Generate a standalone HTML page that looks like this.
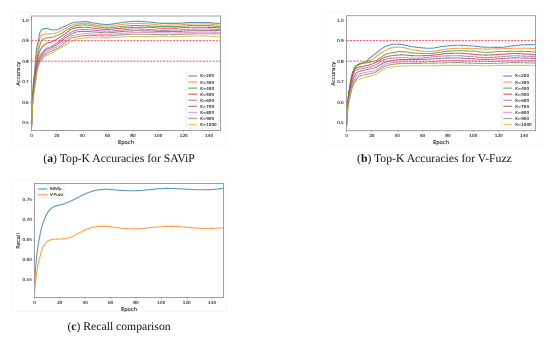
<!DOCTYPE html>
<html><head><meta charset="utf-8"><title>Figure</title>
<style>html,body{margin:0;padding:0;background:#fff;}text{text-rendering:geometricPrecision;}body{width:550px;height:341px;overflow:hidden;}svg{display:block;}</style>
</head><body>
<svg width="550" height="341" viewBox="0 0 550 341">
<rect x="12.0" y="12.5" width="214.5" height="133.0" fill="none" stroke="#f8f8f8" stroke-width="1"/>
<rect x="326.5" y="12.5" width="216.0" height="133.0" fill="none" stroke="#f8f8f8" stroke-width="1"/>
<rect x="12.0" y="180.5" width="214.5" height="131.0" fill="none" stroke="#f8f8f8" stroke-width="1"/>
<clipPath id="c3116"><rect x="31.5" y="16.0" width="189.0" height="114.5"/></clipPath>
<g clip-path="url(#c3116)" fill="none" stroke-linejoin="round" stroke-linecap="butt">
<path d="M31.50,126.70 31.55,124.21 31.60,121.78 31.65,119.42 31.70,117.14 31.75,114.95 31.80,112.86 31.85,110.89 31.90,109.03 31.95,107.30 32.00,105.71 32.05,104.28 32.10,103.00 32.15,101.86 32.20,100.79 32.25,99.80 32.30,98.87 32.35,98.00 32.40,97.18 32.45,96.40 32.50,95.64 32.55,94.91 32.60,94.18 32.65,93.47 32.70,92.74 32.75,92.00 32.80,91.26 32.85,90.52 32.90,89.80 32.95,89.08 33.00,88.37 33.05,87.67 33.10,86.98 33.15,86.31 33.20,85.65 33.25,85.00 33.30,84.37 33.35,83.75 33.40,83.15 33.50,82.01 33.60,80.95 33.70,79.98 33.80,79.09 33.90,78.26 34.00,77.46 34.10,76.67 34.20,75.88 34.30,75.07 34.40,74.22 34.50,73.30 34.60,72.31 34.70,71.22 34.80,70.01 34.85,69.31 34.90,68.48 34.95,67.57 35.00,66.59 35.05,65.59 35.10,64.58 35.15,63.60 35.20,62.67 35.25,61.84 35.30,61.11 35.35,60.48 35.40,59.87 35.50,58.74 35.60,57.71 35.70,56.76 35.80,55.87 35.90,55.01 36.00,54.20 36.10,53.44 36.20,52.72 36.30,52.03 36.40,51.36 36.50,50.69 36.60,50.01 36.70,49.30 36.80,48.58 36.90,47.84 37.00,47.11 37.10,46.40 37.20,45.72 37.30,45.09 37.45,44.25 37.60,43.58 37.80,42.86 38.00,42.25 38.20,41.64 38.40,40.93 38.55,40.27 38.70,39.38 38.80,38.68 38.90,37.94 39.00,37.17 39.10,36.42 39.20,35.69 39.30,35.03 39.45,34.22 39.65,33.46 39.85,32.82 40.10,32.14 40.35,31.59 40.65,31.05 41.00,30.54 41.40,30.09 41.90,29.68 42.40,29.31 42.95,28.98 43.50,28.73 44.10,28.59 44.70,28.51 45.30,28.44 45.90,28.41 46.50,28.41 47.10,28.49 47.70,28.65 48.30,28.84 48.90,29.02 49.50,29.17 50.10,29.34 50.69,29.51 51.29,29.68 51.89,29.83 52.49,29.94 53.09,30.00 53.74,29.99 54.34,29.96 54.94,29.90 55.54,29.82 56.14,29.73 56.74,29.63 57.34,29.51 57.94,29.35 58.54,29.10 59.09,28.83 59.64,28.52 60.19,28.21 60.74,27.92 61.29,27.67 61.84,27.41 62.39,27.16 62.94,26.91 63.49,26.66 64.04,26.41 64.64,26.15 65.24,25.90 65.84,25.66 66.44,25.42 67.04,25.19 67.64,24.95 68.24,24.71 68.84,24.45 69.39,24.17 69.94,23.88 70.49,23.59 71.04,23.33 71.64,23.10 72.24,22.95 72.84,22.82 73.44,22.70 74.04,22.59 74.64,22.49 75.24,22.41 75.84,22.32 76.44,22.25 77.04,22.18 77.64,22.12 78.24,22.07 78.84,22.01 79.44,21.96 80.04,21.91 80.64,21.87 81.24,21.82 81.84,21.77 82.44,21.73 83.04,21.70 83.64,21.66 84.24,21.64 84.84,21.62 85.49,21.60 86.14,21.60 86.74,21.63 87.34,21.69 87.94,21.79 88.53,21.90 89.13,22.04 89.73,22.18 90.33,22.33 90.93,22.48 91.53,22.62 92.13,22.75 92.73,22.86 93.33,22.95 93.93,23.04 94.53,23.13 95.13,23.22 95.73,23.32 96.33,23.41 96.93,23.50 97.53,23.60 98.13,23.69 98.73,23.78 99.33,23.86 99.93,23.95 100.53,24.02 101.13,24.10 101.73,24.17 102.33,24.24 102.93,24.30 103.53,24.35 104.13,24.39 104.73,24.43 105.33,24.46 105.93,24.48 106.58,24.50 107.23,24.50 107.88,24.49 108.48,24.46 109.08,24.42 109.68,24.37 110.28,24.32 110.88,24.25 111.48,24.17 112.08,24.09 112.68,24.01 113.28,23.91 113.88,23.82 114.48,23.72 115.08,23.62 115.68,23.51 116.28,23.41 116.88,23.31 117.48,23.21 118.08,23.11 118.68,23.01 119.28,22.92 119.88,22.84 120.48,22.76 121.08,22.69 121.68,22.62 122.28,22.55 122.88,22.47 123.48,22.40 124.08,22.32 124.68,22.24 125.28,22.16 125.88,22.08 126.47,22.00 127.07,21.92 127.67,21.84 128.27,21.77 128.87,21.70 129.47,21.63 130.07,21.57 130.67,21.51 131.27,21.46 131.87,21.42 132.47,21.38 133.07,21.35 133.67,21.32 134.27,21.31 134.92,21.30 135.57,21.30 136.22,21.31 136.87,21.32 137.47,21.33 138.07,21.35 138.67,21.37 139.27,21.40 139.87,21.42 140.47,21.45 141.07,21.48 141.67,21.51 142.27,21.55 142.87,21.59 143.47,21.62 144.07,21.66 144.67,21.70 145.27,21.74 145.87,21.78 146.47,21.83 147.07,21.87 147.67,21.91 148.27,21.95 148.87,21.99 149.47,22.03 150.07,22.08 150.67,22.14 151.27,22.20 151.87,22.27 152.47,22.35 153.07,22.42 153.67,22.50 154.27,22.58 154.87,22.66 155.47,22.75 156.07,22.83 156.67,22.90 157.27,22.98 157.87,23.05 158.47,23.12 159.07,23.18 159.67,23.24 160.27,23.29 160.87,23.33 161.47,23.36 162.07,23.39 162.72,23.40 163.37,23.40 164.01,23.40 164.66,23.40 165.31,23.40 165.96,23.40 166.61,23.40 167.26,23.40 167.91,23.40 168.56,23.40 169.21,23.40 169.86,23.40 170.51,23.40 171.16,23.40 171.81,23.40 172.46,23.40 173.11,23.40 173.76,23.40 174.41,23.40 175.06,23.40 175.71,23.40 176.36,23.40 177.01,23.40 177.66,23.39 178.26,23.38 178.86,23.36 179.46,23.33 180.06,23.29 180.66,23.25 181.26,23.20 181.86,23.15 182.46,23.10 183.06,23.04 183.66,22.98 184.26,22.92 184.86,22.87 185.46,22.81 186.06,22.76 186.66,22.71 187.26,22.66 187.86,22.62 188.46,22.58 189.06,22.55 189.66,22.52 190.26,22.51 190.91,22.50 191.56,22.50 192.21,22.50 192.86,22.50 193.51,22.50 194.16,22.50 194.81,22.50 195.46,22.50 196.11,22.50 196.76,22.50 197.41,22.50 198.06,22.50 198.71,22.50 199.36,22.50 200.01,22.50 200.66,22.50 201.31,22.50 201.95,22.50 202.60,22.50 203.25,22.50 203.90,22.50 204.55,22.50 205.20,22.50 205.85,22.51 206.45,22.52 207.05,22.55 207.65,22.58 208.25,22.61 208.85,22.65 209.45,22.70 210.05,22.74 210.65,22.80 211.25,22.85 211.85,22.90 212.45,22.96 213.05,23.02 213.65,23.07 214.25,23.13 214.85,23.18 215.45,23.23 216.05,23.28 216.65,23.32 217.25,23.36 217.85,23.39 218.45,23.42 219.05,23.45 219.65,23.47 220.25,23.49 220.50,23.50" stroke="#1f77b4" stroke-width="1.1" stroke-opacity="0.75"/>
<path d="M31.50,126.70 31.55,124.53 31.60,122.40 31.65,120.32 31.70,118.30 31.75,116.34 31.80,114.46 31.85,112.66 31.90,110.94 31.95,109.31 32.00,107.77 32.05,106.34 32.10,105.03 32.15,103.82 32.20,102.74 32.25,101.75 32.30,100.82 32.35,99.94 32.40,99.12 32.45,98.34 32.50,97.60 32.55,96.89 32.60,96.21 32.65,95.54 32.70,94.90 32.75,94.26 32.80,93.62 32.85,92.98 32.90,92.33 32.95,91.67 33.00,91.01 33.05,90.36 33.10,89.72 33.15,89.08 33.20,88.45 33.25,87.83 33.30,87.21 33.35,86.61 33.45,85.43 33.55,84.28 33.65,83.19 33.75,82.13 33.85,81.13 33.95,80.18 34.05,79.28 34.15,78.41 34.25,77.56 34.35,76.74 34.45,75.92 34.55,75.11 34.65,74.30 34.75,73.47 34.85,72.63 34.95,71.75 35.05,70.84 35.15,69.89 35.25,68.87 35.35,67.80 35.45,66.69 35.55,65.56 35.65,64.43 35.75,63.32 35.85,62.25 35.95,61.23 36.05,60.26 36.15,59.28 36.25,58.32 36.35,57.36 36.45,56.43 36.55,55.52 36.65,54.65 36.75,53.83 36.85,53.05 36.95,52.34 37.05,51.69 37.15,51.08 37.30,50.24 37.45,49.46 37.60,48.72 37.75,48.02 37.90,47.34 38.05,46.66 38.20,45.97 38.35,45.26 38.50,44.50 38.65,43.72 38.80,42.93 38.95,42.15 39.10,41.41 39.25,40.72 39.40,40.09 39.55,39.46 39.70,38.83 39.85,38.23 40.05,37.49 40.25,36.86 40.50,36.30 40.85,35.80 41.30,35.35 41.80,35.01 42.35,34.72 42.95,34.51 43.55,34.39 44.15,34.29 44.75,34.21 45.35,34.14 45.95,34.08 46.55,34.03 47.15,33.99 47.75,33.96 48.35,33.93 48.95,33.90 49.55,33.88 50.15,33.85 50.74,33.82 51.34,33.77 51.94,33.71 52.54,33.64 53.14,33.55 53.74,33.45 54.34,33.34 54.94,33.22 55.54,33.08 56.14,32.94 56.74,32.77 57.34,32.54 57.89,32.30 58.44,32.02 58.99,31.74 59.54,31.44 60.09,31.15 60.64,30.88 61.19,30.60 61.74,30.32 62.29,30.03 62.84,29.74 63.39,29.45 63.94,29.16 64.49,28.87 65.04,28.58 65.59,28.29 66.14,28.01 66.69,27.72 67.24,27.44 67.79,27.16 68.34,26.88 68.89,26.60 69.44,26.30 69.99,26.00 70.54,25.71 71.09,25.45 71.69,25.20 72.29,25.02 72.89,24.85 73.49,24.68 74.09,24.53 74.69,24.39 75.29,24.26 75.89,24.14 76.49,24.03 77.09,23.93 77.69,23.85 78.29,23.77 78.89,23.71 79.49,23.66 80.09,23.61 80.69,23.56 81.29,23.51 81.89,23.46 82.49,23.42 83.09,23.39 83.69,23.36 84.29,23.33 84.89,23.31 85.54,23.30 86.19,23.30 86.79,23.33 87.39,23.39 87.99,23.48 88.58,23.59 89.18,23.71 89.78,23.84 90.38,23.98 90.98,24.12 91.58,24.25 92.18,24.37 92.78,24.47 93.38,24.55 93.98,24.64 94.58,24.73 95.18,24.82 95.78,24.92 96.38,25.01 96.98,25.10 97.58,25.19 98.18,25.28 98.78,25.37 99.38,25.46 99.98,25.54 100.58,25.62 101.18,25.70 101.78,25.77 102.38,25.84 102.98,25.90 103.58,25.95 104.18,26.00 104.78,26.03 105.38,26.06 105.98,26.09 106.63,26.10 107.28,26.10 107.93,26.09 108.53,26.06 109.13,26.03 109.73,25.99 110.33,25.94 110.93,25.89 111.53,25.83 112.13,25.76 112.73,25.68 113.33,25.61 113.93,25.53 114.53,25.44 115.13,25.36 115.73,25.27 116.33,25.19 116.93,25.10 117.53,25.02 118.13,24.94 118.73,24.86 119.33,24.78 119.93,24.71 120.53,24.65 121.13,24.59 121.73,24.53 122.33,24.47 122.93,24.40 123.53,24.34 124.13,24.27 124.73,24.20 125.33,24.13 125.93,24.06 126.52,23.99 127.12,23.93 127.72,23.86 128.32,23.80 128.92,23.74 129.52,23.68 130.12,23.63 130.72,23.58 131.32,23.54 131.92,23.50 132.52,23.47 133.12,23.44 133.72,23.42 134.37,23.40 135.02,23.40 135.67,23.40 136.32,23.41 136.97,23.41 137.62,23.43 138.27,23.44 138.87,23.45 139.47,23.47 140.07,23.49 140.67,23.51 141.27,23.53 141.87,23.55 142.47,23.58 143.07,23.61 143.67,23.63 144.27,23.66 144.87,23.69 145.47,23.72 146.07,23.75 146.67,23.78 147.27,23.81 147.87,23.84 148.47,23.87 149.07,23.90 149.67,23.94 150.27,23.98 150.87,24.04 151.47,24.09 152.07,24.16 152.67,24.22 153.27,24.30 153.87,24.37 154.47,24.44 155.07,24.52 155.67,24.60 156.27,24.67 156.87,24.75 157.47,24.82 158.07,24.89 158.67,24.95 159.27,25.01 159.87,25.06 160.47,25.11 161.07,25.14 161.67,25.17 162.27,25.19 162.92,25.20 163.57,25.20 164.21,25.20 164.86,25.20 165.51,25.19 166.16,25.19 166.81,25.18 167.46,25.17 168.11,25.17 168.76,25.16 169.41,25.15 170.06,25.14 170.71,25.13 171.36,25.12 172.01,25.11 172.66,25.09 173.31,25.08 173.96,25.07 174.61,25.05 175.26,25.04 175.91,25.03 176.56,25.01 177.16,25.00 177.76,24.98 178.36,24.95 178.96,24.92 179.56,24.89 180.16,24.85 180.76,24.81 181.36,24.77 181.96,24.72 182.56,24.67 183.16,24.62 183.76,24.57 184.36,24.52 184.96,24.47 185.56,24.42 186.16,24.37 186.76,24.32 187.36,24.28 187.96,24.24 188.56,24.20 189.16,24.17 189.76,24.14 190.36,24.12 190.96,24.10 191.56,24.09 192.21,24.07 192.86,24.06 193.51,24.04 194.16,24.03 194.81,24.02 195.46,24.00 196.11,23.99 196.76,23.98 197.41,23.97 198.06,23.96 198.71,23.95 199.36,23.94 200.01,23.93 200.66,23.92 201.31,23.92 201.95,23.91 202.60,23.91 203.25,23.90 203.90,23.90 204.55,23.90 205.20,23.90 205.85,23.91 206.45,23.93 207.05,23.96 207.65,24.00 208.25,24.04 208.85,24.09 209.45,24.15 210.05,24.21 210.65,24.27 211.25,24.34 211.85,24.41 212.45,24.48 213.05,24.55 213.65,24.62 214.25,24.68 214.85,24.75 215.45,24.81 216.05,24.86 216.65,24.91 217.25,24.96 217.85,24.99 218.45,25.02 219.05,25.05 219.65,25.07 220.25,25.09 220.50,25.10" stroke="#ff7f0e" stroke-width="1.1" stroke-opacity="0.75"/>
<path d="M31.50,126.70 31.55,124.77 31.60,122.88 31.65,121.02 31.70,119.21 31.75,117.45 31.80,115.74 31.85,114.09 31.90,112.50 31.95,110.97 32.00,109.52 32.05,108.14 32.10,106.85 32.15,105.64 32.20,104.51 32.25,103.48 32.30,102.54 32.35,101.67 32.40,100.84 32.45,100.05 32.50,99.31 32.55,98.60 32.60,97.93 32.65,97.28 32.70,96.66 32.75,96.06 32.85,94.89 32.95,93.75 33.05,92.60 33.15,91.41 33.25,90.23 33.35,89.08 33.45,87.96 33.55,86.85 33.65,85.78 33.75,84.73 33.85,83.71 33.95,82.73 34.05,81.77 34.15,80.84 34.25,79.94 34.35,79.07 34.45,78.21 34.55,77.37 34.65,76.55 34.75,75.74 34.85,74.94 34.95,74.15 35.05,73.36 35.15,72.57 35.25,71.79 35.35,71.00 35.45,70.21 35.55,69.41 35.65,68.61 35.75,67.81 35.85,67.01 35.95,66.21 36.05,65.42 36.15,64.64 36.25,63.87 36.35,63.12 36.45,62.37 36.55,61.64 36.65,60.93 36.75,60.22 36.85,59.51 36.95,58.80 37.05,58.10 37.15,57.41 37.25,56.74 37.35,56.08 37.45,55.45 37.55,54.85 37.70,54.02 37.85,53.27 38.00,52.57 38.15,51.91 38.30,51.29 38.45,50.69 38.65,49.93 38.85,49.21 39.05,48.52 39.25,47.85 39.45,47.18 39.65,46.51 39.85,45.84 40.05,45.12 40.25,44.38 40.45,43.64 40.65,42.92 40.85,42.25 41.05,41.65 41.30,41.04 41.65,40.51 42.05,40.05 42.50,39.63 43.00,39.25 43.55,38.92 44.10,38.66 44.70,38.41 45.30,38.20 45.90,38.02 46.50,37.88 47.10,37.79 47.70,37.73 48.30,37.69 48.90,37.65 49.50,37.62 50.10,37.58 50.69,37.53 51.29,37.46 51.89,37.36 52.49,37.23 53.09,37.08 53.69,36.90 54.29,36.71 54.89,36.50 55.49,36.29 56.09,36.07 56.69,35.85 57.29,35.60 57.84,35.34 58.39,35.07 58.94,34.79 59.49,34.50 60.04,34.20 60.59,33.89 61.14,33.57 61.69,33.24 62.24,32.89 62.79,32.53 63.34,32.17 63.89,31.81 64.44,31.45 64.99,31.11 65.54,30.77 66.09,30.43 66.64,30.10 67.19,29.77 67.74,29.44 68.29,29.12 68.84,28.80 69.39,28.48 69.94,28.15 70.49,27.83 71.04,27.53 71.59,27.27 72.19,27.03 72.79,26.81 73.39,26.59 73.99,26.37 74.59,26.17 75.19,25.98 75.79,25.80 76.39,25.64 76.99,25.50 77.59,25.38 78.19,25.29 78.79,25.22 79.39,25.17 79.99,25.13 80.59,25.09 81.19,25.05 81.79,25.02 82.39,24.99 82.99,24.96 83.59,24.94 84.19,24.92 84.84,24.91 85.49,24.90 86.14,24.90 86.74,24.92 87.34,24.97 87.94,25.03 88.53,25.11 89.13,25.21 89.73,25.32 90.33,25.43 90.93,25.54 91.53,25.66 92.13,25.76 92.73,25.86 93.33,25.95 93.93,26.04 94.53,26.14 95.13,26.24 95.73,26.35 96.33,26.46 96.93,26.58 97.53,26.69 98.13,26.80 98.73,26.92 99.33,27.03 99.93,27.14 100.53,27.24 101.13,27.34 101.73,27.44 102.33,27.53 102.93,27.61 103.53,27.68 104.13,27.75 104.73,27.80 105.33,27.85 105.93,27.88 106.53,27.90 107.18,27.90 107.83,27.89 108.43,27.87 109.03,27.85 109.63,27.81 110.23,27.77 110.83,27.73 111.43,27.67 112.03,27.62 112.63,27.55 113.23,27.49 113.83,27.42 114.43,27.35 115.03,27.28 115.63,27.20 116.23,27.13 116.83,27.05 117.43,26.98 118.03,26.91 118.63,26.84 119.23,26.77 119.83,26.71 120.43,26.65 121.03,26.60 121.63,26.54 122.23,26.49 122.83,26.43 123.43,26.37 124.03,26.31 124.63,26.25 125.23,26.18 125.83,26.12 126.42,26.06 127.02,26.00 127.62,25.94 128.22,25.88 128.82,25.82 129.42,25.77 130.02,25.72 130.62,25.68 131.22,25.63 131.82,25.60 132.42,25.57 133.02,25.54 133.62,25.52 134.27,25.51 134.92,25.50 135.57,25.50 136.22,25.51 136.87,25.51 137.52,25.52 138.17,25.53 138.82,25.55 139.42,25.56 140.02,25.58 140.62,25.59 141.22,25.61 141.82,25.63 142.42,25.65 143.02,25.67 143.62,25.69 144.22,25.72 144.82,25.74 145.42,25.76 146.02,25.79 146.62,25.81 147.22,25.83 147.82,25.86 148.42,25.88 149.02,25.90 149.62,25.92 150.22,25.95 150.82,25.98 151.42,26.02 152.02,26.05 152.62,26.09 153.22,26.13 153.82,26.17 154.42,26.21 155.02,26.25 155.62,26.29 156.22,26.33 156.82,26.37 157.42,26.40 158.02,26.44 158.62,26.47 159.22,26.50 159.82,26.53 160.42,26.55 161.02,26.57 161.62,26.59 162.27,26.60 162.92,26.60 163.57,26.60 164.21,26.60 164.86,26.60 165.51,26.60 166.16,26.60 166.81,26.60 167.46,26.60 168.11,26.60 168.76,26.60 169.41,26.60 170.06,26.60 170.71,26.60 171.36,26.60 172.01,26.60 172.66,26.60 173.31,26.60 173.96,26.60 174.61,26.60 175.26,26.60 175.91,26.60 176.56,26.60 177.21,26.60 177.86,26.59 178.46,26.57 179.06,26.54 179.66,26.50 180.26,26.45 180.86,26.40 181.46,26.34 182.06,26.27 182.66,26.21 183.26,26.14 183.86,26.07 184.46,26.00 185.06,25.93 185.66,25.86 186.26,25.79 186.86,25.73 187.46,25.68 188.06,25.63 188.66,25.58 189.26,25.55 189.86,25.52 190.46,25.50 191.11,25.50 191.76,25.50 192.41,25.50 193.06,25.50 193.71,25.50 194.36,25.50 195.01,25.50 195.66,25.50 196.31,25.50 196.96,25.50 197.61,25.50 198.26,25.50 198.91,25.50 199.56,25.50 200.21,25.50 200.86,25.50 201.51,25.50 202.15,25.50 202.80,25.50 203.45,25.50 204.10,25.50 204.75,25.50 205.40,25.50 206.05,25.51 206.65,25.53 207.25,25.56 207.85,25.59 208.45,25.62 209.05,25.67 209.65,25.71 210.25,25.76 210.85,25.81 211.45,25.87 212.05,25.92 212.65,25.98 213.25,26.04 213.85,26.09 214.45,26.15 215.05,26.20 215.65,26.25 216.25,26.29 216.85,26.33 217.45,26.37 218.05,26.40 218.65,26.43 219.25,26.45 219.85,26.48 220.45,26.50 220.50,26.50" stroke="#2ca02c" stroke-width="1.1" stroke-opacity="0.75"/>
<path d="M31.50,126.70 31.55,124.96 31.60,123.26 31.65,121.58 31.70,119.94 31.75,118.34 31.80,116.78 31.85,115.26 31.90,113.79 31.95,112.37 32.00,111.00 32.05,109.70 32.10,108.45 32.15,107.26 32.20,106.14 32.25,105.09 32.30,104.12 32.35,103.22 32.40,102.39 32.45,101.60 32.50,100.85 32.55,100.14 32.60,99.47 32.65,98.82 32.70,98.20 32.80,97.04 32.90,95.94 33.00,94.89 33.10,93.85 33.20,92.81 33.30,91.73 33.40,90.66 33.50,89.61 33.60,88.57 33.70,87.56 33.80,86.56 33.90,85.59 34.00,84.63 34.10,83.70 34.20,82.79 34.30,81.90 34.40,81.02 34.50,80.16 34.60,79.31 34.70,78.47 34.80,77.64 34.90,76.82 35.00,76.02 35.10,75.23 35.20,74.46 35.30,73.70 35.40,72.95 35.50,72.21 35.60,71.49 35.70,70.78 35.80,70.09 35.90,69.41 36.00,68.75 36.10,68.09 36.20,67.44 36.30,66.81 36.40,66.18 36.50,65.57 36.60,64.96 36.70,64.37 36.85,63.50 37.00,62.66 37.15,61.84 37.30,61.04 37.45,60.26 37.60,59.49 37.75,58.73 37.90,57.99 38.05,57.28 38.20,56.60 38.35,55.96 38.50,55.37 38.70,54.66 38.90,53.99 39.10,53.36 39.30,52.76 39.50,52.19 39.75,51.52 40.00,50.90 40.25,50.33 40.55,49.69 40.85,49.08 41.15,48.49 41.45,47.93 41.80,47.33 42.15,46.80 42.55,46.27 43.00,45.81 43.50,45.38 44.00,45.00 44.55,44.65 45.10,44.33 45.65,44.03 46.20,43.75 46.75,43.49 47.35,43.24 47.95,43.02 48.55,42.84 49.15,42.69 49.75,42.55 50.35,42.40 50.94,42.22 51.54,41.99 52.09,41.75 52.64,41.48 53.19,41.20 53.74,40.90 54.29,40.61 54.84,40.32 55.39,40.02 55.94,39.72 56.49,39.41 57.04,39.09 57.59,38.75 58.14,38.41 58.64,38.07 59.14,37.72 59.64,37.35 60.14,36.98 60.64,36.61 61.14,36.25 61.64,35.90 62.14,35.57 62.69,35.21 63.24,34.85 63.79,34.49 64.34,34.14 64.89,33.77 65.39,33.44 65.89,33.09 66.39,32.75 66.89,32.40 67.39,32.06 67.89,31.71 68.39,31.37 68.89,31.03 69.39,30.66 69.89,30.28 70.39,29.91 70.89,29.57 71.44,29.25 71.99,29.00 72.59,28.79 73.19,28.59 73.79,28.39 74.39,28.21 74.99,28.04 75.59,27.89 76.19,27.75 76.79,27.63 77.39,27.54 77.99,27.47 78.59,27.42 79.19,27.40 79.79,27.38 80.39,27.37 81.04,27.35 81.69,27.34 82.34,27.33 82.99,27.32 83.64,27.31 84.29,27.31 84.94,27.30 85.59,27.30 86.24,27.30 86.84,27.32 87.44,27.36 88.04,27.42 88.63,27.49 89.23,27.57 89.83,27.66 90.43,27.75 91.03,27.84 91.63,27.93 92.23,28.01 92.83,28.08 93.43,28.15 94.03,28.21 94.63,28.28 95.23,28.35 95.83,28.42 96.43,28.50 97.03,28.57 97.63,28.65 98.23,28.72 98.83,28.79 99.43,28.87 100.03,28.94 100.63,29.00 101.23,29.06 101.83,29.12 102.43,29.18 103.03,29.23 103.63,29.27 104.23,29.31 104.83,29.35 105.43,29.37 106.03,29.39 106.68,29.40 107.33,29.40 107.98,29.39 108.58,29.37 109.18,29.35 109.78,29.32 110.38,29.28 110.98,29.24 111.58,29.20 112.18,29.15 112.78,29.10 113.38,29.04 113.98,28.98 114.58,28.92 115.18,28.86 115.78,28.80 116.38,28.74 116.98,28.67 117.58,28.61 118.18,28.55 118.78,28.49 119.38,28.44 119.98,28.38 120.58,28.33 121.18,28.29 121.78,28.24 122.38,28.19 122.98,28.14 123.58,28.08 124.18,28.03 124.78,27.97 125.38,27.91 125.98,27.86 126.57,27.80 127.17,27.74 127.77,27.69 128.37,27.64 128.97,27.59 129.57,27.54 130.17,27.49 130.77,27.45 131.37,27.41 131.97,27.38 132.57,27.35 133.17,27.33 133.77,27.31 134.42,27.30 135.07,27.30 135.72,27.30 136.37,27.30 137.02,27.30 137.67,27.30 138.32,27.30 138.97,27.30 139.62,27.30 140.27,27.30 140.92,27.30 141.57,27.30 142.22,27.30 142.87,27.30 143.52,27.30 144.17,27.30 144.82,27.30 145.47,27.30 146.12,27.30 146.77,27.30 147.42,27.30 148.07,27.30 148.72,27.30 149.37,27.30 150.02,27.32 150.62,27.34 151.22,27.37 151.82,27.41 152.42,27.45 153.02,27.50 153.62,27.55 154.22,27.61 154.82,27.67 155.42,27.74 156.02,27.80 156.62,27.87 157.22,27.93 157.82,27.99 158.42,28.05 159.02,28.10 159.62,28.15 160.22,28.20 160.82,28.23 161.42,28.26 162.02,28.29 162.67,28.30 163.32,28.30 163.96,28.30 164.61,28.30 165.26,28.29 165.91,28.29 166.56,28.28 167.21,28.28 167.86,28.27 168.51,28.26 169.16,28.25 169.81,28.24 170.46,28.23 171.11,28.22 171.76,28.21 172.41,28.20 173.06,28.19 173.71,28.17 174.36,28.16 175.01,28.14 175.66,28.13 176.31,28.12 176.96,28.10 177.56,28.08 178.16,28.06 178.76,28.03 179.36,28.00 179.96,27.97 180.56,27.93 181.16,27.88 181.76,27.84 182.36,27.79 182.96,27.74 183.56,27.70 184.16,27.65 184.76,27.60 185.36,27.55 185.96,27.51 186.56,27.47 187.16,27.43 187.76,27.40 188.36,27.37 188.96,27.34 189.56,27.32 190.21,27.31 190.86,27.30 191.51,27.30 192.16,27.30 192.81,27.30 193.46,27.30 194.11,27.30 194.76,27.30 195.41,27.30 196.06,27.30 196.71,27.30 197.36,27.30 198.01,27.30 198.66,27.30 199.31,27.30 199.96,27.30 200.61,27.30 201.26,27.30 201.90,27.30 202.55,27.30 203.20,27.30 203.85,27.30 204.50,27.30 205.15,27.30 205.80,27.30 206.45,27.31 207.10,27.32 207.70,27.34 208.30,27.36 208.90,27.38 209.50,27.40 210.10,27.42 210.70,27.45 211.30,27.48 211.90,27.51 212.50,27.54 213.10,27.57 213.70,27.60 214.30,27.63 214.90,27.66 215.50,27.69 216.10,27.72 216.70,27.74 217.30,27.77 217.90,27.80 218.50,27.82 219.10,27.84 219.70,27.87 220.30,27.89 220.50,27.90" stroke="#d62728" stroke-width="1.1" stroke-opacity="0.75"/>
<path d="M31.50,126.70 31.55,125.12 31.60,123.57 31.65,122.04 31.70,120.55 31.75,119.08 31.80,117.64 31.85,116.24 31.90,114.87 31.95,113.55 32.00,112.27 32.05,111.03 32.10,109.84 32.15,108.70 32.20,107.60 32.25,106.57 32.30,105.59 32.35,104.66 32.40,103.80 32.45,103.00 32.50,102.26 32.55,101.54 32.60,100.87 32.65,100.22 32.70,99.60 32.80,98.43 32.90,97.35 33.00,96.33 33.10,95.36 33.20,94.41 33.30,93.46 33.40,92.50 33.50,91.51 33.60,90.53 33.70,89.57 33.80,88.62 33.90,87.69 34.00,86.77 34.10,85.87 34.20,84.99 34.30,84.12 34.40,83.26 34.50,82.42 34.60,81.59 34.70,80.77 34.80,79.95 34.90,79.13 35.00,78.32 35.10,77.51 35.20,76.72 35.30,75.94 35.40,75.17 35.50,74.42 35.60,73.68 35.70,72.96 35.80,72.26 35.90,71.59 36.00,70.94 36.10,70.31 36.20,69.71 36.35,68.83 36.50,67.96 36.65,67.12 36.80,66.30 36.95,65.51 37.10,64.74 37.25,64.01 37.40,63.32 37.55,62.66 37.70,62.04 37.90,61.28 38.10,60.60 38.30,59.97 38.50,59.39 38.75,58.71 39.00,58.08 39.25,57.48 39.50,56.90 39.75,56.34 40.00,55.79 40.30,55.17 40.60,54.59 40.90,54.06 41.25,53.53 41.60,53.04 42.00,52.53 42.40,52.05 42.80,51.60 43.25,51.10 43.70,50.61 44.15,50.13 44.60,49.68 45.05,49.28 45.55,48.90 46.10,48.57 46.65,48.28 47.20,48.03 47.80,47.78 48.40,47.56 49.00,47.34 49.60,47.11 50.20,46.87 50.74,46.63 51.29,46.35 51.84,46.04 52.39,45.71 52.94,45.37 53.49,45.03 54.04,44.68 54.59,44.34 55.14,44.02 55.69,43.71 56.24,43.42 56.79,43.13 57.34,42.82 57.89,42.47 58.39,42.12 58.89,41.73 59.39,41.31 59.89,40.87 60.34,40.46 60.79,40.05 61.24,39.63 61.69,39.22 62.14,38.79 62.59,38.34 63.04,37.89 63.49,37.44 63.94,37.00 64.39,36.59 64.89,36.18 65.39,35.82 65.94,35.47 66.49,35.15 67.04,34.84 67.59,34.53 68.14,34.22 68.69,33.88 69.24,33.52 69.74,33.17 70.24,32.82 70.74,32.49 71.29,32.16 71.84,31.87 72.44,31.61 73.04,31.36 73.64,31.11 74.24,30.87 74.84,30.64 75.44,30.42 76.04,30.23 76.64,30.06 77.24,29.92 77.84,29.81 78.44,29.73 79.04,29.70 79.64,29.68 80.24,29.67 80.89,29.65 81.54,29.64 82.19,29.63 82.84,29.62 83.49,29.61 84.14,29.61 84.79,29.60 85.44,29.60 86.09,29.60 86.74,29.61 87.34,29.63 87.94,29.66 88.53,29.71 89.13,29.75 89.73,29.81 90.33,29.86 90.93,29.92 91.53,29.98 92.13,30.03 92.73,30.08 93.33,30.13 93.93,30.17 94.53,30.23 95.13,30.28 95.73,30.34 96.33,30.40 96.93,30.46 97.53,30.53 98.13,30.59 98.73,30.65 99.33,30.71 99.93,30.77 100.53,30.83 101.13,30.89 101.73,30.94 102.33,30.99 102.93,31.04 103.53,31.08 104.13,31.12 104.73,31.15 105.33,31.17 105.93,31.19 106.58,31.20 107.23,31.20 107.88,31.19 108.48,31.18 109.08,31.16 109.68,31.13 110.28,31.09 110.88,31.05 111.48,31.01 112.08,30.96 112.68,30.91 113.28,30.86 113.88,30.80 114.48,30.74 115.08,30.68 115.68,30.62 116.28,30.55 116.88,30.49 117.48,30.43 118.08,30.37 118.68,30.31 119.28,30.25 119.88,30.19 120.48,30.14 121.08,30.09 121.68,30.04 122.28,29.99 122.88,29.94 123.48,29.88 124.08,29.82 124.68,29.76 125.28,29.69 125.88,29.63 126.47,29.57 127.07,29.51 127.67,29.44 128.27,29.39 128.87,29.33 129.47,29.28 130.07,29.22 130.67,29.18 131.27,29.14 131.87,29.10 132.47,29.07 133.07,29.04 133.67,29.02 134.32,29.01 134.97,29.00 135.62,29.00 136.27,29.01 136.92,29.01 137.57,29.02 138.22,29.03 138.87,29.04 139.52,29.06 140.12,29.07 140.72,29.09 141.32,29.11 141.92,29.13 142.52,29.15 143.12,29.17 143.72,29.19 144.32,29.21 144.92,29.23 145.52,29.26 146.12,29.28 146.72,29.31 147.32,29.33 147.92,29.36 148.52,29.38 149.12,29.40 149.72,29.43 150.32,29.47 150.92,29.51 151.52,29.55 152.12,29.60 152.72,29.66 153.32,29.71 153.92,29.77 154.52,29.83 155.12,29.89 155.72,29.94 156.32,30.00 156.92,30.06 157.52,30.11 158.12,30.17 158.72,30.21 159.32,30.26 159.92,30.30 160.52,30.33 161.12,30.36 161.72,30.38 162.32,30.39 162.97,30.40 163.62,30.40 164.26,30.40 164.91,30.39 165.56,30.39 166.21,30.38 166.86,30.37 167.51,30.36 168.16,30.35 168.81,30.33 169.46,30.32 170.06,30.30 170.66,30.29 171.26,30.27 171.86,30.26 172.46,30.24 173.06,30.22 173.66,30.21 174.26,30.19 174.86,30.17 175.46,30.15 176.06,30.13 176.66,30.11 177.26,30.09 177.86,30.07 178.46,30.04 179.06,30.01 179.66,29.97 180.26,29.93 180.86,29.89 181.46,29.84 182.06,29.79 182.66,29.74 183.26,29.70 183.86,29.65 184.46,29.60 185.06,29.55 185.66,29.50 186.26,29.45 186.86,29.41 187.46,29.37 188.06,29.33 188.66,29.29 189.26,29.26 189.86,29.24 190.46,29.22 191.06,29.20 191.66,29.18 192.31,29.17 192.96,29.16 193.61,29.14 194.26,29.13 194.91,29.11 195.56,29.10 196.21,29.09 196.86,29.08 197.51,29.07 198.16,29.06 198.81,29.05 199.46,29.04 200.11,29.03 200.76,29.02 201.41,29.02 202.05,29.01 202.70,29.01 203.35,29.00 204.00,29.00 204.65,29.00 205.30,29.00 205.95,29.00 206.60,29.01 207.25,29.02 207.90,29.03 208.50,29.05 209.10,29.06 209.70,29.08 210.30,29.10 210.90,29.12 211.50,29.14 212.10,29.16 212.70,29.19 213.30,29.21 213.90,29.24 214.50,29.26 215.10,29.29 215.70,29.31 216.30,29.34 216.90,29.36 217.50,29.38 218.10,29.40 218.70,29.43 219.30,29.45 219.90,29.48 220.50,29.50" stroke="#9467bd" stroke-width="1.1" stroke-opacity="0.75"/>
<path d="M31.50,126.70 31.55,125.26 31.60,123.83 31.65,122.43 31.70,121.05 31.75,119.69 31.80,118.37 31.85,117.07 31.90,115.79 31.95,114.56 32.00,113.35 32.05,112.18 32.10,111.05 32.15,109.96 32.20,108.90 32.25,107.89 32.30,106.93 32.35,106.01 32.40,105.14 32.45,104.32 32.50,103.55 32.55,102.83 32.60,102.15 32.65,101.50 32.70,100.88 32.80,99.71 32.90,98.63 33.00,97.62 33.10,96.67 33.20,95.76 33.30,94.88 33.40,94.01 33.50,93.13 33.60,92.23 33.70,91.32 33.80,90.42 33.90,89.53 34.00,88.66 34.10,87.80 34.20,86.95 34.30,86.12 34.40,85.29 34.50,84.48 34.60,83.68 34.70,82.89 34.80,82.10 34.90,81.32 35.00,80.54 35.10,79.75 35.20,78.97 35.30,78.18 35.40,77.40 35.50,76.63 35.60,75.87 35.70,75.13 35.80,74.40 35.90,73.68 36.00,72.99 36.10,72.32 36.20,71.68 36.30,71.07 36.45,70.21 36.60,69.41 36.75,68.63 36.90,67.88 37.05,67.14 37.20,66.43 37.35,65.74 37.50,65.08 37.65,64.44 37.80,63.84 38.00,63.08 38.20,62.37 38.40,61.72 38.60,61.14 38.85,60.49 39.10,59.92 39.40,59.30 39.70,58.72 40.00,58.17 40.30,57.62 40.60,57.07 40.90,56.54 41.25,55.95 41.60,55.40 41.95,54.90 42.35,54.37 42.75,53.86 43.15,53.37 43.55,52.86 43.95,52.34 44.35,51.82 44.75,51.31 45.15,50.85 45.60,50.41 46.10,50.04 46.65,49.72 47.20,49.46 47.80,49.21 48.40,48.98 49.00,48.78 49.60,48.57 50.20,48.35 50.79,48.10 51.34,47.83 51.89,47.55 52.44,47.26 52.99,46.96 53.54,46.65 54.09,46.33 54.64,46.01 55.19,45.69 55.74,45.36 56.29,45.02 56.84,44.68 57.39,44.32 57.89,43.98 58.39,43.62 58.89,43.24 59.39,42.85 59.89,42.45 60.39,42.04 60.89,41.62 61.39,41.19 61.89,40.75 62.34,40.32 62.79,39.88 63.24,39.43 63.69,39.00 64.14,38.58 64.64,38.16 65.14,37.81 65.69,37.47 66.24,37.17 66.79,36.89 67.34,36.61 67.89,36.34 68.44,36.03 68.99,35.70 69.49,35.36 69.99,35.02 70.49,34.67 71.04,34.31 71.59,34.00 72.14,33.74 72.69,33.50 73.24,33.26 73.84,33.00 74.44,32.75 75.04,32.51 75.64,32.29 76.24,32.10 76.84,31.93 77.44,31.79 78.04,31.68 78.64,31.62 79.24,31.59 79.84,31.58 80.44,31.56 81.09,31.55 81.74,31.54 82.39,31.53 83.04,31.52 83.69,31.51 84.34,31.51 84.99,31.50 85.64,31.50 86.29,31.50 86.94,31.51 87.54,31.53 88.14,31.56 88.73,31.60 89.33,31.64 89.93,31.68 90.53,31.72 91.13,31.77 91.73,31.81 92.33,31.86 92.93,31.90 93.53,31.93 94.13,31.97 94.73,32.02 95.33,32.06 95.93,32.11 96.53,32.16 97.13,32.21 97.73,32.26 98.33,32.32 98.93,32.37 99.53,32.42 100.13,32.47 100.73,32.51 101.33,32.56 101.93,32.60 102.53,32.64 103.13,32.68 103.73,32.71 104.33,32.74 104.93,32.76 105.53,32.78 106.18,32.79 106.83,32.80 107.48,32.80 108.13,32.78 108.73,32.76 109.33,32.73 109.93,32.70 110.53,32.66 111.13,32.61 111.73,32.55 112.33,32.50 112.93,32.44 113.53,32.37 114.13,32.31 114.73,32.24 115.33,32.17 115.93,32.10 116.53,32.03 117.13,31.96 117.73,31.90 118.33,31.83 118.93,31.77 119.53,31.72 120.13,31.67 120.73,31.62 121.33,31.58 121.93,31.53 122.53,31.49 123.13,31.45 123.73,31.40 124.33,31.35 124.93,31.31 125.53,31.26 126.12,31.22 126.72,31.17 127.32,31.13 127.92,31.09 128.52,31.04 129.12,31.01 129.72,30.97 130.32,30.94 130.92,30.91 131.52,30.88 132.12,30.86 132.72,30.84 133.32,30.82 133.97,30.81 134.62,30.80 135.27,30.80 135.92,30.80 136.57,30.80 137.22,30.80 137.87,30.81 138.52,30.81 139.17,30.81 139.82,30.81 140.47,30.82 141.12,30.82 141.77,30.83 142.42,30.83 143.07,30.84 143.72,30.84 144.37,30.85 145.02,30.85 145.67,30.86 146.32,30.87 146.97,30.88 147.62,30.88 148.27,30.89 148.92,30.90 149.57,30.91 150.17,30.93 150.77,30.95 151.37,30.97 151.97,31.00 152.57,31.04 153.17,31.07 153.77,31.11 154.37,31.16 154.97,31.20 155.57,31.24 156.17,31.28 156.77,31.33 157.37,31.37 157.97,31.41 158.57,31.45 159.17,31.48 159.77,31.51 160.37,31.54 160.97,31.56 161.57,31.58 162.22,31.59 162.87,31.60 163.52,31.60 164.16,31.60 164.81,31.60 165.46,31.60 166.11,31.59 166.76,31.59 167.41,31.59 168.06,31.58 168.71,31.58 169.36,31.58 170.01,31.57 170.66,31.57 171.31,31.56 171.96,31.56 172.61,31.55 173.26,31.54 173.91,31.54 174.56,31.53 175.21,31.52 175.86,31.51 176.51,31.51 177.16,31.50 177.81,31.49 178.41,31.47 179.01,31.45 179.61,31.42 180.21,31.40 180.81,31.36 181.41,31.33 182.01,31.29 182.61,31.26 183.21,31.22 183.81,31.18 184.41,31.14 185.01,31.10 185.61,31.06 186.21,31.02 186.81,30.99 187.41,30.95 188.01,30.92 188.61,30.89 189.21,30.86 189.81,30.84 190.41,30.82 191.01,30.80 191.66,30.79 192.31,30.77 192.96,30.76 193.61,30.74 194.26,30.73 194.91,30.72 195.56,30.70 196.21,30.69 196.86,30.68 197.51,30.67 198.16,30.66 198.81,30.65 199.46,30.64 200.11,30.63 200.76,30.62 201.41,30.62 202.05,30.61 202.70,30.61 203.35,30.60 204.00,30.60 204.65,30.60 205.30,30.60 205.95,30.60 206.60,30.60 207.25,30.60 207.90,30.60 208.55,30.60 209.20,30.60 209.85,30.60 210.50,30.60 211.15,30.60 211.80,30.60 212.45,30.60 213.10,30.60 213.75,30.60 214.40,30.60 215.05,30.60 215.70,30.60 216.35,30.60 217.00,30.60 217.65,30.60 218.30,30.60 218.90,30.62 219.50,30.65 220.10,30.68 220.50,30.70" stroke="#8c564b" stroke-width="1.1" stroke-opacity="0.75"/>
<path d="M31.50,126.70 31.55,125.37 31.60,124.05 31.65,122.76 31.70,121.48 31.75,120.22 31.80,118.98 31.85,117.77 31.90,116.59 31.95,115.42 32.00,114.29 32.05,113.19 32.10,112.11 32.15,111.07 32.20,110.06 32.25,109.08 32.30,108.14 32.35,107.24 32.40,106.38 32.45,105.55 32.50,104.77 32.55,104.03 32.60,103.33 32.65,102.68 32.70,102.06 32.75,101.46 32.85,100.33 32.95,99.29 33.05,98.32 33.15,97.40 33.25,96.53 33.35,95.69 33.45,94.87 33.55,94.07 33.65,93.25 33.75,92.43 33.85,91.58 33.95,90.74 34.05,89.91 34.15,89.10 34.25,88.29 34.35,87.50 34.45,86.72 34.55,85.94 34.65,85.18 34.75,84.42 34.85,83.67 34.95,82.93 35.05,82.19 35.15,81.45 35.25,80.71 35.35,79.95 35.45,79.20 35.55,78.44 35.65,77.68 35.75,76.93 35.85,76.19 35.95,75.46 36.05,74.74 36.15,74.04 36.25,73.36 36.35,72.71 36.45,72.08 36.55,71.48 36.70,70.64 36.85,69.89 37.00,69.17 37.15,68.48 37.30,67.81 37.45,67.15 37.60,66.52 37.75,65.91 37.90,65.32 38.10,64.57 38.30,63.87 38.50,63.21 38.70,62.60 38.90,62.03 39.15,61.39 39.40,60.84 39.70,60.27 40.05,59.69 40.40,59.17 40.75,58.64 41.10,58.07 41.45,57.46 41.80,56.87 42.15,56.32 42.55,55.77 42.95,55.26 43.35,54.79 43.80,54.31 44.25,53.86 44.70,53.43 45.15,53.03 45.65,52.61 46.15,52.24 46.70,51.88 47.25,51.56 47.80,51.27 48.35,51.01 48.90,50.76 49.45,50.51 50.00,50.27 50.54,50.02 51.09,49.75 51.64,49.48 52.19,49.21 52.74,48.94 53.29,48.67 53.84,48.39 54.39,48.11 54.94,47.83 55.49,47.55 56.04,47.27 56.59,46.99 57.14,46.70 57.69,46.40 58.24,46.07 58.74,45.73 59.24,45.35 59.74,44.94 60.24,44.50 60.69,44.09 61.14,43.68 61.59,43.28 62.09,42.84 62.54,42.44 62.99,42.03 63.44,41.62 63.89,41.22 64.39,40.78 64.89,40.38 65.39,40.01 65.89,39.66 66.39,39.33 66.94,38.97 67.49,38.63 68.04,38.29 68.59,37.94 69.14,37.58 69.64,37.24 70.14,36.89 70.69,36.54 71.24,36.23 71.79,35.98 72.39,35.77 72.99,35.59 73.59,35.42 74.19,35.26 74.79,35.12 75.39,34.99 75.99,34.87 76.59,34.76 77.19,34.66 77.79,34.56 78.39,34.48 78.99,34.40 79.59,34.33 80.19,34.25 80.79,34.18 81.39,34.11 81.99,34.05 82.59,33.98 83.19,33.93 83.79,33.88 84.39,33.85 84.99,33.82 85.59,33.80 86.24,33.80 86.89,33.81 87.49,33.83 88.09,33.85 88.68,33.88 89.28,33.91 89.88,33.94 90.48,33.98 91.08,34.01 91.68,34.04 92.28,34.07 92.88,34.10 93.48,34.12 94.08,34.14 94.68,34.16 95.28,34.18 95.88,34.21 96.48,34.23 97.08,34.25 97.68,34.28 98.28,34.30 98.88,34.32 99.48,34.34 100.08,34.36 100.68,34.38 101.28,34.40 101.88,34.42 102.48,34.44 103.08,34.45 103.73,34.47 104.38,34.48 105.03,34.49 105.68,34.49 106.33,34.50 106.98,34.50 107.63,34.50 108.28,34.48 108.88,34.47 109.48,34.44 110.08,34.41 110.68,34.38 111.28,34.34 111.88,34.30 112.48,34.25 113.08,34.20 113.68,34.15 114.28,34.10 114.88,34.04 115.48,33.99 116.08,33.93 116.68,33.87 117.28,33.82 117.88,33.76 118.48,33.71 119.08,33.65 119.68,33.60 120.28,33.55 120.88,33.51 121.48,33.46 122.08,33.42 122.68,33.37 123.28,33.32 123.88,33.26 124.48,33.21 125.08,33.15 125.68,33.09 126.27,33.03 126.87,32.98 127.47,32.92 128.07,32.87 128.67,32.82 129.27,32.77 129.87,32.72 130.47,32.68 131.07,32.64 131.67,32.60 132.27,32.57 132.87,32.54 133.47,32.52 134.07,32.51 134.72,32.50 135.37,32.50 136.02,32.50 136.67,32.50 137.32,32.50 137.97,32.50 138.62,32.50 139.27,32.50 139.92,32.50 140.57,32.50 141.22,32.50 141.87,32.50 142.52,32.50 143.17,32.50 143.82,32.50 144.47,32.50 145.12,32.50 145.77,32.50 146.42,32.50 147.07,32.50 147.72,32.50 148.37,32.50 149.02,32.50 149.67,32.50 150.32,32.51 150.97,32.53 151.57,32.54 152.17,32.57 152.77,32.59 153.37,32.62 153.97,32.64 154.57,32.67 155.17,32.71 155.77,32.74 156.37,32.77 156.97,32.80 157.57,32.83 158.17,32.86 158.77,32.89 159.37,32.92 159.97,32.94 160.57,32.96 161.17,32.98 161.82,32.99 162.47,33.00 163.12,33.00 163.77,33.00 164.41,33.00 165.06,33.00 165.71,33.00 166.36,32.99 167.01,32.99 167.66,32.99 168.31,32.98 168.96,32.98 169.61,32.97 170.26,32.97 170.91,32.96 171.56,32.96 172.21,32.95 172.86,32.95 173.51,32.94 174.16,32.93 174.81,32.93 175.46,32.92 176.11,32.91 176.76,32.90 177.41,32.89 178.06,32.88 178.66,32.87 179.26,32.85 179.86,32.83 180.46,32.81 181.06,32.79 181.66,32.77 182.26,32.74 182.86,32.72 183.46,32.69 184.06,32.66 184.66,32.63 185.26,32.61 185.86,32.58 186.46,32.55 187.06,32.53 187.66,32.50 188.26,32.48 188.86,32.46 189.46,32.44 190.06,32.42 190.66,32.41 191.31,32.39 191.96,32.38 192.61,32.37 193.26,32.35 193.91,32.34 194.56,32.33 195.21,32.31 195.86,32.30 196.51,32.29 197.16,32.28 197.81,32.27 198.46,32.26 199.11,32.25 199.76,32.24 200.41,32.23 201.06,32.22 201.70,32.22 202.35,32.21 203.00,32.21 203.65,32.20 204.30,32.20 204.95,32.20 205.60,32.20 206.25,32.20 206.90,32.21 207.55,32.22 208.20,32.23 208.85,32.24 209.50,32.25 210.15,32.27 210.75,32.28 211.35,32.30 211.95,32.31 212.55,32.33 213.15,32.35 213.75,32.36 214.35,32.38 214.95,32.40 215.55,32.42 216.15,32.44 216.75,32.46 217.35,32.48 217.95,32.50 218.55,32.52 219.15,32.54 219.75,32.57 220.35,32.59 220.50,32.60" stroke="#e377c2" stroke-width="1.1" stroke-opacity="0.75"/>
<path d="M31.50,126.70 31.55,125.46 31.60,124.24 31.65,123.04 31.70,121.85 31.75,120.67 31.80,119.52 31.85,118.38 31.90,117.27 31.95,116.18 32.00,115.11 32.05,114.06 32.10,113.04 32.15,112.05 32.20,111.08 32.25,110.14 32.30,109.24 32.35,108.36 32.40,107.51 32.45,106.70 32.50,105.92 32.55,105.17 32.60,104.46 32.65,103.79 32.70,103.16 32.75,102.56 32.85,101.43 32.95,100.38 33.05,99.40 33.15,98.49 33.25,97.63 33.35,96.81 33.45,96.02 33.55,95.25 33.65,94.49 33.75,93.74 33.85,92.98 33.95,92.20 34.05,91.41 34.15,90.63 34.25,89.86 34.35,89.10 34.45,88.35 34.55,87.61 34.65,86.88 34.75,86.15 34.85,85.44 34.95,84.72 35.05,84.02 35.15,83.32 35.25,82.62 35.35,81.92 35.45,81.22 35.55,80.50 35.65,79.78 35.75,79.05 35.85,78.31 35.95,77.58 36.05,76.86 36.15,76.14 36.25,75.43 36.35,74.74 36.45,74.06 36.55,73.40 36.65,72.77 36.75,72.16 36.90,71.31 37.05,70.53 37.20,69.84 37.35,69.19 37.50,68.56 37.65,67.94 37.80,67.35 38.00,66.58 38.20,65.85 38.40,65.15 38.60,64.49 38.80,63.87 39.00,63.28 39.25,62.61 39.50,62.00 39.80,61.36 40.10,60.83 40.45,60.31 40.85,59.82 41.25,59.36 41.65,58.83 42.00,58.30 42.35,57.73 42.70,57.20 43.10,56.69 43.55,56.21 44.00,55.78 44.50,55.35 45.00,54.95 45.50,54.57 46.00,54.23 46.55,53.87 47.10,53.54 47.65,53.24 48.20,52.95 48.75,52.68 49.30,52.42 49.85,52.16 50.40,51.90 50.94,51.63 51.49,51.35 52.04,51.08 52.59,50.81 53.14,50.53 53.69,50.26 54.24,49.98 54.79,49.70 55.34,49.43 55.89,49.16 56.44,48.89 56.99,48.61 57.54,48.33 58.09,48.03 58.64,47.72 59.19,47.38 59.74,47.03 60.24,46.70 60.74,46.35 61.24,45.98 61.74,45.60 62.24,45.20 62.69,44.80 63.14,44.37 63.59,43.92 64.04,43.48 64.49,43.05 64.94,42.65 65.44,42.24 65.94,41.84 66.44,41.45 66.94,41.08 67.44,40.72 67.94,40.37 68.44,40.04 68.99,39.68 69.54,39.31 70.09,38.96 70.64,38.63 71.19,38.34 71.74,38.09 72.34,37.89 72.94,37.71 73.54,37.55 74.14,37.40 74.74,37.26 75.34,37.14 75.94,37.02 76.54,36.91 77.14,36.80 77.74,36.70 78.34,36.61 78.94,36.51 79.54,36.41 80.14,36.31 80.74,36.20 81.34,36.10 81.94,36.00 82.54,35.90 83.14,35.82 83.74,35.74 84.34,35.68 84.94,35.63 85.54,35.61 86.19,35.60 86.84,35.60 87.49,35.60 88.14,35.60 88.78,35.60 89.43,35.60 90.08,35.60 90.73,35.60 91.38,35.60 92.03,35.60 92.68,35.60 93.33,35.60 93.98,35.61 94.63,35.62 95.28,35.63 95.88,35.64 96.48,35.66 97.08,35.68 97.68,35.70 98.28,35.73 98.88,35.75 99.48,35.78 100.08,35.80 100.68,35.83 101.28,35.85 101.88,35.88 102.48,35.90 103.08,35.92 103.68,35.94 104.28,35.96 104.88,35.98 105.53,35.99 106.18,36.00 106.83,36.00 107.48,36.00 108.13,35.98 108.73,35.97 109.33,35.94 109.93,35.91 110.53,35.87 111.13,35.82 111.73,35.77 112.33,35.72 112.93,35.66 113.53,35.60 114.13,35.54 114.73,35.48 115.33,35.42 115.93,35.35 116.53,35.29 117.13,35.23 117.73,35.17 118.33,35.11 118.93,35.06 119.53,35.01 120.13,34.96 120.73,34.92 121.33,34.88 121.93,34.84 122.53,34.80 123.13,34.76 123.73,34.72 124.33,34.68 124.93,34.64 125.53,34.60 126.12,34.56 126.72,34.52 127.32,34.48 127.92,34.45 128.52,34.41 129.12,34.38 129.72,34.35 130.32,34.32 130.92,34.29 131.52,34.27 132.12,34.25 132.72,34.23 133.37,34.22 134.02,34.21 134.67,34.20 135.32,34.20 135.97,34.20 136.62,34.20 137.27,34.20 137.92,34.21 138.57,34.21 139.22,34.21 139.87,34.21 140.52,34.22 141.17,34.22 141.82,34.23 142.47,34.23 143.12,34.24 143.77,34.24 144.42,34.25 145.07,34.26 145.72,34.26 146.37,34.27 147.02,34.28 147.67,34.28 148.32,34.29 148.97,34.30 149.62,34.31 150.22,34.33 150.82,34.34 151.42,34.37 152.02,34.39 152.62,34.42 153.22,34.46 153.82,34.49 154.42,34.52 155.02,34.56 155.62,34.60 156.22,34.63 156.82,34.67 157.42,34.71 158.02,34.74 158.62,34.77 159.22,34.80 159.82,34.83 160.42,34.85 161.02,34.87 161.62,34.89 162.27,34.90 162.92,34.90 163.57,34.90 164.21,34.89 164.86,34.89 165.51,34.88 166.16,34.87 166.81,34.85 167.41,34.84 168.01,34.82 168.61,34.80 169.21,34.78 169.81,34.76 170.41,34.74 171.01,34.72 171.61,34.70 172.21,34.67 172.81,34.65 173.41,34.63 174.01,34.61 174.61,34.58 175.21,34.56 175.81,34.54 176.41,34.52 177.01,34.50 177.61,34.48 178.21,34.46 178.81,34.44 179.41,34.42 180.01,34.40 180.61,34.37 181.21,34.35 181.81,34.33 182.41,34.30 183.01,34.28 183.61,34.26 184.21,34.23 184.81,34.21 185.41,34.19 186.01,34.16 186.61,34.14 187.21,34.12 187.81,34.10 188.41,34.08 189.01,34.06 189.61,34.04 190.21,34.02 190.81,34.01 191.41,33.99 192.01,33.97 192.61,33.96 193.21,33.94 193.81,33.92 194.41,33.90 195.01,33.89 195.61,33.87 196.21,33.85 196.81,33.83 197.41,33.82 198.01,33.80 198.61,33.79 199.21,33.77 199.86,33.76 200.51,33.75 201.16,33.73 201.80,33.72 202.45,33.72 203.10,33.71 203.75,33.70 204.40,33.70 205.05,33.70 205.70,33.70 206.35,33.71 207.00,33.71 207.65,33.72 208.30,33.73 208.95,33.74 209.60,33.75 210.25,33.77 210.85,33.78 211.45,33.80 212.05,33.81 212.65,33.83 213.25,33.85 213.85,33.87 214.45,33.89 215.05,33.91 215.65,33.93 216.25,33.94 216.85,33.96 217.45,33.98 218.05,34.00 218.65,34.02 219.25,34.05 219.85,34.07 220.45,34.10 220.50,34.10" stroke="#7f7f7f" stroke-width="1.1" stroke-opacity="0.75"/>
<path d="M31.50,126.70 31.55,125.55 31.60,124.41 31.65,123.28 31.70,122.17 31.75,121.07 31.80,119.98 31.85,118.92 31.90,117.87 31.95,116.84 32.00,115.83 32.05,114.84 32.10,113.87 32.15,112.92 32.20,112.00 32.25,111.10 32.30,110.22 32.35,109.37 32.40,108.54 32.45,107.75 32.50,106.98 32.55,106.24 32.60,105.53 32.65,104.85 32.70,104.20 32.75,103.59 32.85,102.45 32.95,101.40 33.05,100.42 33.15,99.50 33.25,98.64 33.35,97.83 33.45,97.05 33.55,96.30 33.65,95.58 33.75,94.87 33.85,94.16 33.95,93.46 34.05,92.74 34.15,92.01 34.25,91.26 34.35,90.53 34.45,89.81 34.55,89.10 34.65,88.40 34.75,87.71 34.85,87.02 34.95,86.34 35.05,85.66 35.15,84.99 35.25,84.32 35.35,83.66 35.45,83.00 35.55,82.34 35.65,81.67 35.75,81.00 35.85,80.31 35.95,79.61 36.05,78.91 36.15,78.20 36.25,77.49 36.35,76.79 36.45,76.09 36.55,75.41 36.65,74.73 36.75,74.08 36.85,73.44 36.95,72.83 37.10,71.96 37.25,71.15 37.40,70.44 37.55,69.80 37.70,69.21 37.85,68.62 38.05,67.87 38.25,67.15 38.45,66.45 38.65,65.79 38.85,65.15 39.05,64.55 39.25,63.99 39.50,63.33 39.75,62.72 40.00,62.17 40.30,61.59 40.65,61.03 41.05,60.53 41.50,60.07 41.95,59.66 42.40,59.19 42.80,58.73 43.20,58.25 43.65,57.75 44.10,57.32 44.60,56.88 45.10,56.49 45.60,56.14 46.15,55.79 46.70,55.47 47.25,55.17 47.80,54.90 48.35,54.65 48.95,54.40 49.55,54.18 50.15,53.96 50.74,53.71 51.29,53.46 51.84,53.19 52.39,52.90 52.94,52.60 53.49,52.29 54.04,51.97 54.59,51.64 55.14,51.31 55.69,50.97 56.24,50.60 56.74,50.26 57.24,49.92 57.74,49.59 58.29,49.23 58.84,48.89 59.39,48.58 59.94,48.30 60.49,48.04 61.04,47.77 61.59,47.49 62.14,47.19 62.69,46.85 63.19,46.51 63.69,46.15 64.19,45.78 64.69,45.42 65.19,45.07 65.69,44.73 66.19,44.39 66.69,44.06 67.24,43.70 67.79,43.34 68.34,43.00 68.89,42.66 69.44,42.31 69.99,41.97 70.54,41.64 71.09,41.34 71.64,41.06 72.24,40.80 72.84,40.56 73.44,40.32 74.04,40.09 74.64,39.87 75.24,39.67 75.84,39.47 76.44,39.29 77.04,39.13 77.64,38.98 78.24,38.84 78.84,38.73 79.44,38.63 80.04,38.53 80.64,38.44 81.24,38.36 81.84,38.28 82.44,38.20 83.04,38.13 83.64,38.07 84.24,38.02 84.84,37.97 85.44,37.93 86.04,37.90 86.64,37.87 87.24,37.85 87.84,37.82 88.43,37.80 89.03,37.78 89.63,37.76 90.23,37.74 90.83,37.72 91.48,37.71 92.13,37.70 92.78,37.70 93.43,37.70 94.08,37.70 94.73,37.71 95.38,37.72 96.03,37.72 96.68,37.73 97.33,37.75 97.98,37.76 98.63,37.77 99.28,37.78 99.93,37.80 100.58,37.81 101.23,37.83 101.88,37.84 102.53,37.85 103.18,37.86 103.83,37.87 104.48,37.88 105.13,37.89 105.78,37.90 106.43,37.90 107.08,37.90 107.73,37.89 108.38,37.88 108.98,37.86 109.58,37.83 110.18,37.80 110.78,37.77 111.38,37.73 111.98,37.68 112.58,37.64 113.18,37.59 113.78,37.54 114.38,37.49 114.98,37.43 115.58,37.38 116.18,37.33 116.78,37.28 117.38,37.23 117.98,37.18 118.58,37.14 119.18,37.10 119.78,37.06 120.38,37.03 120.98,37.00 121.58,36.98 122.18,36.95 122.78,36.93 123.38,36.90 123.98,36.88 124.58,36.86 125.18,36.83 125.78,36.81 126.37,36.79 126.97,36.77 127.57,36.75 128.17,36.73 128.77,36.71 129.37,36.69 129.97,36.67 130.57,36.66 131.22,36.64 131.87,36.63 132.52,36.62 133.17,36.61 133.82,36.60 134.47,36.60 135.12,36.60 135.77,36.60 136.42,36.60 137.07,36.60 137.72,36.60 138.37,36.60 139.02,36.60 139.67,36.60 140.32,36.60 140.97,36.60 141.62,36.60 142.27,36.60 142.92,36.60 143.57,36.60 144.22,36.60 144.87,36.60 145.52,36.60 146.17,36.60 146.82,36.60 147.47,36.60 148.12,36.60 148.77,36.60 149.42,36.60 150.07,36.60 150.72,36.61 151.37,36.62 152.02,36.62 152.67,36.63 153.32,36.65 153.97,36.66 154.62,36.67 155.27,36.68 155.92,36.70 156.57,36.71 157.22,36.73 157.87,36.74 158.52,36.75 159.17,36.76 159.82,36.77 160.47,36.78 161.12,36.79 161.77,36.80 162.42,36.80 163.07,36.80 163.72,36.80 164.36,36.80 165.01,36.79 165.66,36.79 166.31,36.78 166.96,36.78 167.61,36.77 168.26,36.76 168.91,36.75 169.56,36.74 170.21,36.73 170.86,36.72 171.51,36.71 172.16,36.70 172.81,36.68 173.46,36.67 174.11,36.66 174.76,36.65 175.41,36.63 176.06,36.62 176.71,36.61 177.36,36.59 177.96,36.58 178.56,36.56 179.16,36.54 179.76,36.52 180.36,36.50 180.96,36.48 181.56,36.45 182.16,36.43 182.76,36.40 183.36,36.38 183.96,36.35 184.56,36.33 185.16,36.30 185.76,36.27 186.36,36.25 186.96,36.23 187.56,36.20 188.16,36.18 188.76,36.16 189.36,36.14 189.96,36.12 190.56,36.11 191.21,36.10 191.86,36.08 192.51,36.07 193.16,36.06 193.81,36.04 194.46,36.03 195.11,36.02 195.76,36.00 196.41,35.99 197.06,35.98 197.71,35.97 198.36,35.96 199.01,35.95 199.66,35.94 200.31,35.93 200.96,35.92 201.60,35.92 202.25,35.91 202.90,35.91 203.55,35.90 204.20,35.90 204.85,35.90 205.50,35.90 206.15,35.92 206.75,35.93 207.35,35.96 207.95,35.99 208.55,36.03 209.15,36.07 209.75,36.12 210.35,36.17 210.95,36.22 211.55,36.28 212.15,36.33 212.75,36.39 213.35,36.45 213.95,36.50 214.55,36.55 215.15,36.61 215.75,36.65 216.35,36.70 216.95,36.74 217.55,36.78 218.15,36.81 218.75,36.83 219.35,36.86 219.95,36.88 220.50,36.90" stroke="#bcbd22" stroke-width="1.1" stroke-opacity="0.75"/>
<line x1="31.5" y1="40.7" x2="220.5" y2="40.7" stroke="#ff3344" stroke-opacity="0.85" stroke-width="1.0" stroke-dasharray="2.2 1.09"/>
<line x1="31.5" y1="61.2" x2="220.5" y2="61.2" stroke="#ff3344" stroke-opacity="0.85" stroke-width="1.0" stroke-dasharray="2.2 1.09"/>
</g>
<rect x="31.5" y="16.0" width="189.0" height="114.5" fill="none" stroke="#959595" stroke-width="0.9"/>
<line x1="30.3" y1="122.7" x2="31.5" y2="122.7" stroke="#666" stroke-width="0.5"/>
<line x1="30.3" y1="102.2" x2="31.5" y2="102.2" stroke="#666" stroke-width="0.5"/>
<line x1="30.3" y1="81.7" x2="31.5" y2="81.7" stroke="#666" stroke-width="0.5"/>
<line x1="30.3" y1="61.19999999999999" x2="31.5" y2="61.19999999999999" stroke="#666" stroke-width="0.5"/>
<line x1="30.3" y1="40.699999999999996" x2="31.5" y2="40.699999999999996" stroke="#666" stroke-width="0.5"/>
<line x1="30.3" y1="20.2" x2="31.5" y2="20.2" stroke="#666" stroke-width="0.5"/>
<line x1="31.5" y1="130.5" x2="31.5" y2="131.7" stroke="#666" stroke-width="0.5"/>
<line x1="56.87" y1="130.5" x2="56.87" y2="131.7" stroke="#666" stroke-width="0.5"/>
<line x1="82.24" y1="130.5" x2="82.24" y2="131.7" stroke="#666" stroke-width="0.5"/>
<line x1="107.61" y1="130.5" x2="107.61" y2="131.7" stroke="#666" stroke-width="0.5"/>
<line x1="132.98" y1="130.5" x2="132.98" y2="131.7" stroke="#666" stroke-width="0.5"/>
<line x1="158.35" y1="130.5" x2="158.35" y2="131.7" stroke="#666" stroke-width="0.5"/>
<line x1="183.72" y1="130.5" x2="183.72" y2="131.7" stroke="#666" stroke-width="0.5"/>
<line x1="209.09" y1="130.5" x2="209.09" y2="131.7" stroke="#666" stroke-width="0.5"/>
<g font-family="DejaVu Sans" font-size="4.2" fill="#1e1e1e" stroke="#1e1e1e" stroke-width="0.1"><text x="28.8" y="124.15" text-anchor="end">0.5</text><text x="28.8" y="103.65" text-anchor="end">0.6</text><text x="28.8" y="83.15" text-anchor="end">0.7</text><text x="28.8" y="62.65" text-anchor="end">0.8</text><text x="28.8" y="42.15" text-anchor="end">0.9</text><text x="28.8" y="21.65" text-anchor="end">1.0</text><text x="31.5" y="137.00" text-anchor="middle">0</text><text x="56.87" y="137.00" text-anchor="middle">20</text><text x="82.24" y="137.00" text-anchor="middle">40</text><text x="107.61" y="137.00" text-anchor="middle">60</text><text x="132.98" y="137.00" text-anchor="middle">80</text><text x="158.35" y="137.00" text-anchor="middle">100</text><text x="183.72" y="137.00" text-anchor="middle">120</text><text x="209.09" y="137.00" text-anchor="middle">140</text></g>
<text x="126.0" y="143.80" text-anchor="middle" font-family="DejaVu Sans" font-size="5.3" fill="#111" stroke="#111" stroke-width="0.1">Epoch</text>
<text transform="translate(19.60,73.65) rotate(-90)" text-anchor="middle" font-family="DejaVu Sans" font-size="5.3" fill="#111" stroke="#111" stroke-width="0.1">Accuracy</text>
<rect x="186.4" y="72.2" width="32.099999999999994" height="55.999999999999986" rx="0.8" fill="#fff" fill-opacity="0.8" stroke="#d8d8d8" stroke-width="0.4"/>
<line x1="188.3" y1="76.0" x2="197.1" y2="76.0" stroke="#1f77b4" stroke-width="1.32" stroke-opacity="0.68"/>
<text x="200.2" y="77.45" font-family="DejaVu Sans" font-size="4.05" fill="#1a1a1a" stroke="#1a1a1a" stroke-width="0.1">K=200</text>
<line x1="188.3" y1="82.07" x2="197.1" y2="82.07" stroke="#ff7f0e" stroke-width="1.32" stroke-opacity="0.68"/>
<text x="200.2" y="83.52" font-family="DejaVu Sans" font-size="4.05" fill="#1a1a1a" stroke="#1a1a1a" stroke-width="0.1">K=300</text>
<line x1="188.3" y1="88.14" x2="197.1" y2="88.14" stroke="#2ca02c" stroke-width="1.32" stroke-opacity="0.68"/>
<text x="200.2" y="89.59" font-family="DejaVu Sans" font-size="4.05" fill="#1a1a1a" stroke="#1a1a1a" stroke-width="0.1">K=400</text>
<line x1="188.3" y1="94.21000000000001" x2="197.1" y2="94.21000000000001" stroke="#d62728" stroke-width="1.32" stroke-opacity="0.68"/>
<text x="200.2" y="95.66" font-family="DejaVu Sans" font-size="4.05" fill="#1a1a1a" stroke="#1a1a1a" stroke-width="0.1">K=500</text>
<line x1="188.3" y1="100.28" x2="197.1" y2="100.28" stroke="#9467bd" stroke-width="1.32" stroke-opacity="0.68"/>
<text x="200.2" y="101.73" font-family="DejaVu Sans" font-size="4.05" fill="#1a1a1a" stroke="#1a1a1a" stroke-width="0.1">K=600</text>
<line x1="188.3" y1="106.35" x2="197.1" y2="106.35" stroke="#8c564b" stroke-width="1.32" stroke-opacity="0.68"/>
<text x="200.2" y="107.80" font-family="DejaVu Sans" font-size="4.05" fill="#1a1a1a" stroke="#1a1a1a" stroke-width="0.1">K=700</text>
<line x1="188.3" y1="112.42" x2="197.1" y2="112.42" stroke="#e377c2" stroke-width="1.32" stroke-opacity="0.68"/>
<text x="200.2" y="113.87" font-family="DejaVu Sans" font-size="4.05" fill="#1a1a1a" stroke="#1a1a1a" stroke-width="0.1">K=800</text>
<line x1="188.3" y1="118.49000000000001" x2="197.1" y2="118.49000000000001" stroke="#7f7f7f" stroke-width="1.32" stroke-opacity="0.68"/>
<text x="200.2" y="119.94" font-family="DejaVu Sans" font-size="4.05" fill="#1a1a1a" stroke="#1a1a1a" stroke-width="0.1">K=900</text>
<line x1="188.3" y1="124.56" x2="197.1" y2="124.56" stroke="#bcbd22" stroke-width="1.32" stroke-opacity="0.68"/>
<text x="200.2" y="126.01" font-family="DejaVu Sans" font-size="4.05" fill="#1a1a1a" stroke="#1a1a1a" stroke-width="0.1">K=1000</text>
<clipPath id="c34615"><rect x="346.5" y="15.7" width="189.0" height="114.99999999999999"/></clipPath>
<g clip-path="url(#c34615)" fill="none" stroke-linejoin="round" stroke-linecap="butt">
<path d="M346.50,126.00 346.55,124.34 346.60,122.69 346.65,121.08 346.70,119.52 346.75,118.02 346.80,116.60 346.85,115.27 346.90,114.05 346.95,112.96 347.00,112.00 347.05,111.14 347.10,110.33 347.15,109.55 347.20,108.81 347.25,108.11 347.30,107.43 347.35,106.79 347.40,106.17 347.50,105.01 347.60,103.92 347.70,102.90 347.80,101.92 347.90,100.96 348.00,100.00 348.10,99.06 348.20,98.16 348.30,97.30 348.40,96.47 348.50,95.67 348.60,94.90 348.70,94.15 348.80,93.42 348.90,92.70 349.00,92.00 349.10,91.32 349.20,90.66 349.30,90.01 349.40,89.38 349.50,88.76 349.60,88.15 349.70,87.56 349.85,86.68 350.00,85.82 350.15,84.98 350.30,84.13 350.45,83.29 350.60,82.44 350.75,81.57 350.90,80.69 351.05,79.81 351.20,78.95 351.35,78.11 351.50,77.31 351.65,76.55 351.80,75.84 351.95,75.20 352.15,74.45 352.35,73.75 352.55,73.10 352.75,72.50 352.95,71.94 353.20,71.27 353.45,70.63 353.70,70.01 353.95,69.40 354.20,68.82 354.50,68.17 354.80,67.62 355.15,67.09 355.55,66.58 355.95,66.12 356.40,65.68 356.90,65.27 357.40,64.94 357.95,64.61 358.50,64.33 359.05,64.08 359.65,63.84 360.25,63.61 360.85,63.42 361.45,63.26 362.05,63.09 362.65,62.92 363.25,62.71 363.85,62.49 364.45,62.25 365.05,61.99 365.59,61.72 366.14,61.41 366.64,61.07 367.14,60.68 367.64,60.24 368.09,59.83 368.54,59.41 368.99,59.01 369.44,58.59 369.89,58.15 370.34,57.70 370.79,57.28 371.29,56.85 371.79,56.45 372.29,56.07 372.79,55.70 373.29,55.33 373.79,54.97 374.29,54.61 374.79,54.24 375.29,53.86 375.79,53.47 376.29,53.05 376.79,52.63 377.29,52.20 377.79,51.77 378.29,51.34 378.79,50.91 379.29,50.50 379.79,50.11 380.29,49.73 380.79,49.37 381.29,49.02 381.79,48.67 382.29,48.33 382.84,47.98 383.39,47.64 383.94,47.33 384.49,47.04 385.04,46.75 385.59,46.48 386.14,46.23 386.74,45.97 387.34,45.75 387.94,45.56 388.54,45.36 389.14,45.16 389.74,44.97 390.34,44.78 390.94,44.62 391.54,44.47 392.14,44.35 392.74,44.27 393.34,44.21 393.94,44.20 394.59,44.20 395.24,44.21 395.89,44.23 396.49,44.24 397.09,44.26 397.69,44.28 398.29,44.31 398.89,44.33 399.49,44.36 400.09,44.39 400.69,44.43 401.29,44.49 401.89,44.57 402.49,44.66 403.09,44.77 403.68,44.88 404.28,45.01 404.88,45.14 405.48,45.27 406.08,45.40 406.68,45.53 407.28,45.66 407.88,45.78 408.48,45.92 409.08,46.06 409.68,46.21 410.28,46.35 410.88,46.49 411.48,46.61 412.08,46.71 412.68,46.80 413.28,46.89 413.88,46.96 414.48,47.04 415.08,47.10 415.68,47.17 416.28,47.23 416.88,47.29 417.48,47.35 418.08,47.42 418.68,47.48 419.28,47.55 419.88,47.61 420.48,47.67 421.08,47.74 421.68,47.80 422.28,47.86 422.88,47.92 423.48,47.97 424.08,48.02 424.68,48.07 425.28,48.12 425.88,48.16 426.48,48.19 427.08,48.22 427.68,48.25 428.28,48.27 428.88,48.29 429.53,48.30 430.18,48.30 430.78,48.29 431.38,48.26 431.98,48.21 432.58,48.16 433.18,48.09 433.78,48.01 434.38,47.93 434.98,47.83 435.58,47.73 436.18,47.62 436.78,47.51 437.38,47.39 437.98,47.28 438.58,47.16 439.18,47.05 439.78,46.93 440.38,46.82 440.98,46.72 441.57,46.62 442.17,46.52 442.77,46.44 443.37,46.37 443.97,46.30 444.57,46.24 445.17,46.19 445.77,46.13 446.37,46.07 446.97,46.01 447.57,45.95 448.17,45.89 448.77,45.83 449.37,45.78 449.97,45.72 450.57,45.67 451.17,45.62 451.77,45.57 452.37,45.53 452.97,45.48 453.57,45.45 454.17,45.41 454.77,45.38 455.37,45.35 455.97,45.33 456.57,45.32 457.22,45.31 457.87,45.30 458.52,45.30 459.17,45.31 459.82,45.32 460.42,45.33 461.02,45.35 461.62,45.37 462.22,45.40 462.82,45.42 463.42,45.45 464.02,45.48 464.62,45.52 465.22,45.55 465.82,45.59 466.42,45.63 467.02,45.67 467.62,45.71 468.22,45.75 468.82,45.79 469.42,45.83 470.02,45.87 470.62,45.91 471.22,45.95 471.82,45.99 472.42,46.03 473.02,46.07 473.62,46.12 474.22,46.17 474.82,46.23 475.42,46.29 476.02,46.35 476.62,46.41 477.22,46.48 477.82,46.54 478.42,46.60 479.01,46.67 479.61,46.73 480.21,46.79 480.81,46.85 481.41,46.91 482.01,46.96 482.61,47.01 483.21,47.06 483.81,47.10 484.41,47.14 485.01,47.17 485.61,47.19 486.21,47.21 486.81,47.22 487.41,47.23 488.06,47.25 488.71,47.26 489.36,47.28 490.01,47.29 490.66,47.30 491.31,47.31 491.96,47.33 492.61,47.34 493.26,47.35 493.91,47.36 494.56,47.36 495.21,47.37 495.86,47.38 496.51,47.38 497.16,47.39 497.81,47.39 498.46,47.40 499.11,47.40 499.76,47.40 500.41,47.40 501.01,47.38 501.61,47.35 502.21,47.31 502.81,47.27 503.41,47.21 504.01,47.14 504.61,47.07 505.21,46.99 505.81,46.90 506.41,46.81 507.01,46.72 507.61,46.62 508.21,46.52 508.81,46.42 509.41,46.33 510.01,46.23 510.61,46.14 511.21,46.05 511.81,45.96 512.41,45.88 513.01,45.81 513.61,45.74 514.21,45.68 514.81,45.62 515.41,45.56 516.01,45.50 516.60,45.44 517.20,45.37 517.80,45.31 518.40,45.24 519.00,45.18 519.60,45.12 520.20,45.06 520.80,45.00 521.40,44.95 522.00,44.89 522.60,44.84 523.20,44.80 523.80,44.75 524.40,44.72 525.00,44.68 525.60,44.65 526.20,44.63 526.80,44.61 527.45,44.60 528.10,44.60 528.75,44.60 529.40,44.60 530.05,44.61 530.70,44.62 531.35,44.63 531.95,44.65 532.55,44.66 533.15,44.68 533.75,44.71 534.35,44.74 534.95,44.77 535.50,44.80" stroke="#1f77b4" stroke-width="1.1" stroke-opacity="0.75"/>
<path d="M346.50,126.00 346.55,124.34 346.60,122.69 346.65,121.08 346.70,119.52 346.75,118.02 346.80,116.60 346.85,115.27 346.90,114.05 346.95,112.96 347.00,112.00 347.05,111.14 347.10,110.33 347.15,109.55 347.20,108.81 347.25,108.11 347.30,107.43 347.35,106.79 347.40,106.17 347.50,105.01 347.60,103.92 347.70,102.90 347.80,101.92 347.90,100.96 348.00,100.00 348.10,99.06 348.20,98.16 348.30,97.30 348.40,96.47 348.50,95.67 348.60,94.90 348.70,94.15 348.80,93.42 348.90,92.70 349.00,92.00 349.10,91.32 349.20,90.66 349.30,90.01 349.40,89.38 349.50,88.76 349.60,88.15 349.70,87.56 349.85,86.68 350.00,85.82 350.15,84.98 350.30,84.13 350.45,83.29 350.60,82.44 350.75,81.57 350.90,80.69 351.05,79.81 351.20,78.95 351.35,78.11 351.50,77.31 351.65,76.55 351.80,75.84 351.95,75.20 352.15,74.45 352.35,73.75 352.55,73.10 352.75,72.50 352.95,71.94 353.20,71.27 353.45,70.63 353.70,70.01 353.95,69.39 354.20,68.81 354.50,68.16 354.80,67.61 355.15,67.10 355.55,66.61 356.00,66.13 356.45,65.72 356.95,65.34 357.50,64.98 358.05,64.66 358.60,64.38 359.15,64.13 359.75,63.89 360.35,63.69 360.95,63.51 361.55,63.36 362.15,63.21 362.75,63.07 363.35,62.91 363.95,62.76 364.55,62.61 365.15,62.45 365.74,62.28 366.34,62.08 366.94,61.85 367.54,61.60 368.14,61.34 368.74,61.10 369.34,60.88 369.94,60.69 370.54,60.49 371.14,60.23 371.69,59.93 372.24,59.57 372.74,59.21 373.24,58.82 373.74,58.41 374.24,58.00 374.74,57.59 375.24,57.19 375.74,56.82 376.24,56.44 376.74,56.06 377.24,55.68 377.74,55.30 378.24,54.92 378.74,54.54 379.24,54.17 379.74,53.82 380.24,53.47 380.74,53.14 381.24,52.80 381.79,52.44 382.34,52.09 382.89,51.75 383.44,51.42 383.99,51.10 384.54,50.79 385.09,50.49 385.64,50.18 386.19,49.88 386.74,49.59 387.29,49.31 387.84,49.05 388.44,48.79 389.04,48.58 389.64,48.40 390.24,48.23 390.84,48.06 391.44,47.90 392.04,47.75 392.64,47.60 393.24,47.47 393.84,47.36 394.44,47.26 395.04,47.18 395.64,47.13 396.24,47.10 396.89,47.10 397.54,47.11 398.14,47.13 398.74,47.16 399.34,47.20 399.94,47.24 400.54,47.29 401.14,47.34 401.74,47.39 402.34,47.45 402.94,47.50 403.53,47.58 404.13,47.68 404.73,47.81 405.33,47.96 405.93,48.12 406.53,48.29 407.13,48.48 407.73,48.67 408.33,48.86 408.93,49.04 409.53,49.22 410.13,49.39 410.73,49.54 411.33,49.68 411.93,49.79 412.53,49.88 413.13,49.97 413.73,50.04 414.33,50.12 414.93,50.19 415.53,50.25 416.13,50.31 416.73,50.38 417.33,50.45 417.93,50.51 418.53,50.58 419.13,50.65 419.73,50.72 420.33,50.79 420.93,50.86 421.53,50.93 422.13,50.99 422.73,51.06 423.33,51.12 423.93,51.18 424.53,51.23 425.13,51.28 425.73,51.33 426.33,51.37 426.93,51.41 427.53,51.44 428.13,51.46 428.73,51.48 429.38,51.50 430.03,51.50 430.68,51.49 431.28,51.46 431.88,51.43 432.48,51.37 433.08,51.31 433.68,51.23 434.28,51.15 434.88,51.06 435.48,50.96 436.08,50.86 436.68,50.75 437.28,50.64 437.88,50.52 438.48,50.41 439.08,50.29 439.68,50.18 440.28,50.06 440.88,49.96 441.47,49.85 442.07,49.76 442.67,49.67 443.27,49.59 443.87,49.51 444.47,49.45 445.07,49.38 445.67,49.31 446.27,49.24 446.87,49.17 447.47,49.10 448.07,49.03 448.67,48.97 449.27,48.90 449.87,48.83 450.47,48.77 451.07,48.71 451.67,48.65 452.27,48.59 452.87,48.54 453.47,48.49 454.07,48.45 454.67,48.41 455.27,48.37 455.87,48.35 456.47,48.32 457.07,48.31 457.72,48.30 458.37,48.30 459.02,48.30 459.67,48.30 460.32,48.31 460.97,48.31 461.62,48.32 462.27,48.33 462.92,48.33 463.57,48.34 464.22,48.35 464.87,48.36 465.52,48.37 466.17,48.38 466.82,48.39 467.47,48.41 468.12,48.42 468.77,48.43 469.42,48.45 470.07,48.46 470.72,48.47 471.37,48.49 472.02,48.50 472.62,48.52 473.22,48.53 473.82,48.56 474.42,48.58 475.02,48.61 475.62,48.64 476.22,48.67 476.82,48.71 477.42,48.74 478.02,48.78 478.62,48.81 479.21,48.85 479.81,48.88 480.41,48.92 481.01,48.95 481.61,48.98 482.21,49.01 482.81,49.03 483.41,49.05 484.01,49.07 484.61,49.09 485.26,49.10 485.91,49.10 486.56,49.10 487.21,49.10 487.86,49.09 488.51,49.08 489.16,49.08 489.81,49.07 490.46,49.05 491.11,49.04 491.76,49.03 492.36,49.01 492.96,49.00 493.56,48.98 494.16,48.97 494.76,48.95 495.36,48.93 495.96,48.92 496.56,48.90 497.16,48.88 497.76,48.86 498.36,48.85 498.96,48.83 499.56,48.81 500.16,48.80 500.76,48.78 501.36,48.76 501.96,48.73 502.56,48.71 503.16,48.68 503.76,48.66 504.36,48.63 504.96,48.60 505.56,48.57 506.16,48.54 506.76,48.51 507.36,48.49 507.96,48.46 508.56,48.43 509.16,48.41 509.76,48.39 510.36,48.37 510.96,48.35 511.56,48.33 512.21,48.32 512.86,48.31 513.51,48.30 514.16,48.30 514.81,48.30 515.46,48.30 516.11,48.30 516.75,48.30 517.40,48.30 518.05,48.30 518.70,48.30 519.35,48.30 520.00,48.30 520.65,48.30 521.30,48.30 521.95,48.30 522.60,48.30 523.25,48.30 523.90,48.30 524.55,48.30 525.20,48.30 525.85,48.30 526.50,48.30 527.15,48.30 527.80,48.30 528.45,48.30 529.10,48.32 529.70,48.34 530.30,48.37 530.90,48.40 531.50,48.45 532.10,48.49 532.70,48.54 533.30,48.60 533.90,48.65 534.50,48.71 535.10,48.76 535.50,48.80" stroke="#ff7f0e" stroke-width="1.1" stroke-opacity="0.75"/>
<path d="M346.50,126.00 346.55,124.34 346.60,122.69 346.65,121.08 346.70,119.52 346.75,118.02 346.80,116.60 346.85,115.27 346.90,114.05 346.95,112.96 347.00,112.00 347.05,111.14 347.10,110.33 347.15,109.55 347.20,108.81 347.25,108.11 347.30,107.43 347.35,106.79 347.40,106.17 347.50,105.01 347.60,103.92 347.70,102.90 347.80,101.92 347.90,100.96 348.00,100.00 348.10,99.06 348.20,98.16 348.30,97.30 348.40,96.47 348.50,95.67 348.60,94.90 348.70,94.15 348.80,93.42 348.90,92.70 349.00,92.00 349.10,91.32 349.20,90.66 349.30,90.01 349.40,89.37 349.50,88.75 349.60,88.14 349.70,87.55 349.85,86.67 350.00,85.81 350.15,84.96 350.30,84.12 350.45,83.28 350.60,82.44 350.75,81.59 350.90,80.73 351.05,79.88 351.20,79.04 351.35,78.23 351.50,77.44 351.65,76.71 351.80,76.02 351.95,75.40 352.15,74.66 352.35,73.98 352.55,73.35 352.75,72.76 353.00,72.07 353.25,71.42 353.50,70.80 353.75,70.20 354.00,69.62 354.25,69.07 354.55,68.47 354.85,67.93 355.20,67.42 355.60,66.88 356.00,66.41 356.45,65.94 356.95,65.54 357.50,65.19 358.05,64.88 358.60,64.62 359.20,64.38 359.80,64.16 360.40,63.98 361.00,63.82 361.60,63.68 362.20,63.56 362.80,63.44 363.40,63.33 364.00,63.22 364.60,63.12 365.20,63.03 365.79,62.93 366.39,62.83 366.99,62.73 367.59,62.63 368.19,62.53 368.79,62.43 369.39,62.34 369.99,62.25 370.59,62.16 371.19,62.06 371.79,61.94 372.39,61.82 372.99,61.68 373.59,61.52 374.19,61.34 374.79,61.12 375.39,60.86 375.94,60.59 376.49,60.30 377.04,59.98 377.59,59.65 378.14,59.29 378.64,58.96 379.14,58.61 379.64,58.26 380.14,57.91 380.64,57.55 381.14,57.19 381.64,56.84 382.14,56.49 382.64,56.14 383.14,55.81 383.69,55.45 384.24,55.12 384.79,54.80 385.34,54.50 385.89,54.23 386.49,53.97 387.09,53.75 387.69,53.57 388.29,53.44 388.89,53.31 389.49,53.18 390.09,53.05 390.69,52.93 391.29,52.81 391.89,52.70 392.49,52.59 393.09,52.48 393.69,52.38 394.29,52.28 394.89,52.18 395.49,52.10 396.09,52.01 396.69,51.94 397.29,51.87 397.89,51.81 398.49,51.75 399.09,51.71 399.69,51.67 400.29,51.64 400.89,51.62 401.54,51.60 402.19,51.60 402.84,51.61 403.43,51.64 404.03,51.68 404.63,51.73 405.23,51.80 405.83,51.87 406.43,51.95 407.03,52.03 407.63,52.12 408.23,52.21 408.83,52.31 409.43,52.41 410.03,52.50 410.63,52.60 411.23,52.69 411.83,52.78 412.43,52.87 413.03,52.95 413.63,53.02 414.23,53.08 414.83,53.13 415.43,53.17 416.03,53.20 416.63,53.22 417.23,53.24 417.83,53.26 418.43,53.28 419.03,53.30 419.63,53.32 420.23,53.34 420.83,53.36 421.43,53.37 422.03,53.39 422.63,53.40 423.23,53.42 423.88,53.43 424.53,53.45 425.18,53.46 425.83,53.47 426.48,53.48 427.13,53.48 427.78,53.49 428.43,53.50 429.08,53.50 429.73,53.50 430.38,53.50 430.98,53.48 431.58,53.45 432.18,53.40 432.78,53.34 433.38,53.28 433.98,53.20 434.58,53.11 435.18,53.02 435.78,52.92 436.38,52.81 436.98,52.71 437.58,52.60 438.18,52.49 438.78,52.38 439.38,52.27 439.98,52.16 440.58,52.06 441.17,51.96 441.77,51.87 442.37,51.78 442.97,51.71 443.57,51.64 444.17,51.58 444.77,51.53 445.37,51.48 445.97,51.42 446.57,51.37 447.17,51.32 447.77,51.26 448.37,51.21 448.97,51.16 449.57,51.11 450.17,51.06 450.77,51.01 451.37,50.97 451.97,50.93 452.57,50.89 453.17,50.85 453.77,50.82 454.37,50.79 454.97,50.76 455.57,50.74 456.17,50.72 456.82,50.71 457.47,50.70 458.12,50.70 458.77,50.70 459.42,50.71 460.07,50.71 460.72,50.72 461.37,50.73 462.02,50.74 462.67,50.76 463.27,50.77 463.87,50.79 464.47,50.81 465.07,50.83 465.67,50.85 466.27,50.87 466.87,50.89 467.47,50.91 468.07,50.94 468.67,50.96 469.27,50.98 469.87,51.01 470.47,51.03 471.07,51.06 471.67,51.09 472.27,51.11 472.87,51.15 473.47,51.19 474.07,51.24 474.67,51.29 475.27,51.35 475.87,51.41 476.47,51.48 477.07,51.55 477.67,51.62 478.27,51.69 478.86,51.76 479.46,51.83 480.06,51.90 480.66,51.96 481.26,52.03 481.86,52.08 482.46,52.14 483.06,52.18 483.66,52.22 484.26,52.26 484.86,52.28 485.46,52.30 486.11,52.30 486.76,52.30 487.41,52.28 488.01,52.27 488.61,52.25 489.21,52.22 489.81,52.20 490.41,52.16 491.01,52.13 491.61,52.09 492.21,52.05 492.81,52.02 493.41,51.97 494.01,51.93 494.61,51.89 495.21,51.85 495.81,51.81 496.41,51.77 497.01,51.74 497.61,51.70 498.21,51.67 498.81,51.64 499.41,51.62 500.01,51.60 500.61,51.58 501.21,51.56 501.81,51.55 502.41,51.53 503.01,51.51 503.61,51.49 504.21,51.47 504.81,51.46 505.41,51.44 506.01,51.42 506.61,51.41 507.21,51.39 507.81,51.38 508.46,51.36 509.11,51.35 509.76,51.34 510.41,51.33 511.06,51.32 511.71,51.31 512.36,51.31 513.01,51.30 513.66,51.30 514.31,51.30 514.96,51.30 515.61,51.30 516.26,51.31 516.90,51.32 517.55,51.32 518.20,51.33 518.85,51.34 519.50,51.35 520.15,51.37 520.80,51.38 521.40,51.39 522.00,51.41 522.60,51.42 523.20,51.44 523.80,51.46 524.40,51.48 525.00,51.50 525.60,51.52 526.20,51.54 526.80,51.56 527.40,51.58 528.00,51.60 528.60,51.63 529.20,51.66 529.80,51.70 530.40,51.75 531.00,51.80 531.60,51.86 532.20,51.92 532.80,51.99 533.40,52.05 534.00,52.12 534.60,52.19 535.20,52.26 535.50,52.30" stroke="#2ca02c" stroke-width="1.1" stroke-opacity="0.75"/>
<path d="M346.50,126.00 346.55,124.47 346.60,122.96 346.65,121.48 346.70,120.04 346.75,118.66 346.80,117.34 346.85,116.10 346.90,114.96 346.95,113.92 347.00,113.00 347.05,112.17 347.10,111.37 347.15,110.60 347.20,109.87 347.25,109.17 347.30,108.50 347.35,107.85 347.40,107.23 347.50,106.06 347.60,104.97 347.70,103.93 347.80,102.93 347.90,101.96 348.00,101.00 348.10,100.06 348.20,99.16 348.30,98.30 348.40,97.47 348.50,96.67 348.60,95.90 348.70,95.15 348.80,94.42 348.90,93.70 349.00,93.00 349.10,92.32 349.20,91.65 349.30,90.99 349.40,90.35 349.50,89.72 349.60,89.10 349.70,88.49 349.80,87.89 349.95,87.02 350.10,86.17 350.25,85.34 350.40,84.53 350.55,83.74 350.70,82.97 350.85,82.20 351.00,81.46 351.15,80.73 351.30,80.02 351.45,79.33 351.60,78.66 351.75,78.02 351.90,77.40 352.05,76.81 352.25,76.04 352.45,75.29 352.65,74.56 352.85,73.88 353.05,73.23 353.25,72.65 353.50,72.00 353.75,71.44 354.05,70.81 354.35,70.25 354.70,69.69 355.10,69.19 355.55,68.73 356.05,68.29 356.55,67.94 357.10,67.66 357.70,67.42 358.30,67.22 358.90,67.06 359.50,66.91 360.10,66.78 360.70,66.66 361.30,66.55 361.90,66.45 362.50,66.36 363.10,66.26 363.70,66.16 364.30,66.04 364.90,65.92 365.49,65.79 366.09,65.66 366.69,65.52 367.29,65.37 367.89,65.23 368.49,65.07 369.09,64.92 369.69,64.75 370.29,64.58 370.89,64.40 371.49,64.20 372.09,63.99 372.69,63.75 373.29,63.50 373.89,63.25 374.44,63.00 374.99,62.74 375.54,62.47 376.09,62.18 376.64,61.87 377.19,61.56 377.74,61.24 378.29,60.91 378.84,60.58 379.39,60.25 379.94,59.92 380.49,59.59 381.04,59.26 381.59,58.94 382.14,58.63 382.69,58.33 383.24,58.03 383.79,57.76 384.34,57.50 384.89,57.25 385.49,57.01 386.09,56.79 386.69,56.60 387.29,56.44 387.89,56.32 388.49,56.22 389.09,56.12 389.69,56.03 390.29,55.93 390.89,55.84 391.49,55.76 392.09,55.67 392.69,55.59 393.29,55.51 393.89,55.44 394.49,55.37 395.09,55.30 395.69,55.24 396.29,55.18 396.89,55.13 397.49,55.08 398.09,55.04 398.69,55.00 399.29,54.97 399.89,54.94 400.49,54.92 401.14,54.91 401.79,54.90 402.44,54.90 403.09,54.92 403.68,54.94 404.28,54.96 404.88,55.00 405.48,55.04 406.08,55.09 406.68,55.13 407.28,55.19 407.88,55.24 408.48,55.30 409.08,55.36 409.68,55.42 410.28,55.47 410.88,55.53 411.48,55.58 412.08,55.63 412.68,55.67 413.28,55.71 413.88,55.74 414.48,55.77 415.08,55.79 415.73,55.80 416.38,55.80 417.03,55.80 417.68,55.79 418.33,55.79 418.98,55.78 419.63,55.77 420.28,55.75 420.93,55.74 421.53,55.72 422.13,55.71 422.73,55.69 423.33,55.67 423.93,55.65 424.53,55.63 425.13,55.61 425.73,55.58 426.33,55.56 426.93,55.53 427.53,55.51 428.13,55.48 428.73,55.46 429.33,55.43 429.93,55.40 430.53,55.37 431.13,55.33 431.73,55.28 432.33,55.23 432.93,55.17 433.53,55.10 434.13,55.02 434.73,54.95 435.33,54.87 435.93,54.78 436.53,54.70 437.13,54.61 437.73,54.52 438.33,54.44 438.93,54.35 439.53,54.27 440.13,54.19 440.73,54.11 441.32,54.04 441.92,53.98 442.52,53.92 443.12,53.86 443.72,53.82 444.32,53.78 444.92,53.74 445.52,53.70 446.12,53.67 446.72,53.63 447.32,53.59 447.92,53.56 448.52,53.52 449.12,53.49 449.72,53.46 450.32,53.42 450.92,53.39 451.52,53.37 452.12,53.34 452.72,53.31 453.32,53.29 453.92,53.27 454.52,53.25 455.12,53.24 455.77,53.22 456.42,53.21 457.07,53.20 457.72,53.20 458.37,53.20 459.02,53.21 459.62,53.23 460.22,53.25 460.82,53.27 461.42,53.31 462.02,53.34 462.62,53.39 463.22,53.43 463.82,53.48 464.42,53.53 465.02,53.58 465.62,53.64 466.22,53.69 466.82,53.75 467.42,53.81 468.02,53.87 468.62,53.92 469.22,53.98 469.82,54.03 470.42,54.08 471.02,54.13 471.62,54.17 472.22,54.21 472.82,54.26 473.42,54.30 474.02,54.35 474.62,54.40 475.22,54.45 475.82,54.50 476.42,54.55 477.02,54.60 477.62,54.65 478.22,54.70 478.81,54.75 479.41,54.80 480.01,54.85 480.61,54.89 481.21,54.93 481.81,54.97 482.41,55.00 483.01,55.03 483.61,55.05 484.21,55.07 484.81,55.09 485.46,55.10 486.11,55.10 486.76,55.10 487.41,55.09 488.06,55.07 488.66,55.06 489.26,55.04 489.86,55.01 490.46,54.99 491.06,54.96 491.66,54.93 492.26,54.89 492.86,54.86 493.46,54.82 494.06,54.78 494.66,54.74 495.26,54.70 495.86,54.66 496.46,54.62 497.06,54.58 497.66,54.54 498.26,54.50 498.86,54.47 499.46,54.43 500.06,54.40 500.66,54.36 501.26,54.32 501.86,54.28 502.46,54.23 503.06,54.18 503.66,54.14 504.26,54.08 504.86,54.03 505.46,53.98 506.06,53.93 506.66,53.88 507.26,53.83 507.86,53.78 508.46,53.74 509.06,53.69 509.66,53.65 510.26,53.62 510.86,53.58 511.46,53.56 512.06,53.53 512.66,53.52 513.31,53.50 513.96,53.50 514.61,53.50 515.26,53.51 515.91,53.52 516.51,53.54 517.10,53.56 517.70,53.58 518.30,53.60 518.90,53.63 519.50,53.66 520.10,53.70 520.70,53.73 521.30,53.77 521.90,53.80 522.50,53.84 523.10,53.88 523.70,53.92 524.30,53.96 524.90,54.00 525.50,54.04 526.10,54.08 526.70,54.12 527.30,54.16 527.90,54.19 528.50,54.23 529.10,54.27 529.70,54.30 530.30,54.34 530.90,54.38 531.50,54.42 532.10,54.46 532.70,54.50 533.30,54.54 533.90,54.59 534.50,54.63 535.10,54.67 535.50,54.70" stroke="#d62728" stroke-width="1.1" stroke-opacity="0.75"/>
<path d="M346.50,126.00 346.55,124.61 346.60,123.23 346.65,121.87 346.70,120.56 346.75,119.29 346.80,118.08 346.85,116.93 346.90,115.87 346.95,114.89 347.00,114.00 347.05,113.19 347.10,112.40 347.15,111.64 347.20,110.90 347.25,110.20 347.30,109.51 347.35,108.85 347.40,108.22 347.45,107.60 347.55,106.43 347.65,105.34 347.75,104.32 347.85,103.35 347.95,102.44 348.05,101.58 348.15,100.76 348.25,99.99 348.35,99.26 348.45,98.56 348.55,97.89 348.65,97.25 348.75,96.63 348.85,96.03 349.00,95.16 349.15,94.29 349.30,93.44 349.45,92.62 349.60,91.82 349.75,91.06 349.90,90.31 350.05,89.58 350.20,88.86 350.35,88.15 350.50,87.44 350.65,86.73 350.80,86.01 350.95,85.27 351.10,84.52 351.25,83.77 351.40,83.02 351.55,82.27 351.70,81.53 351.85,80.81 352.00,80.11 352.15,79.43 352.30,78.80 352.45,78.20 352.65,77.45 352.85,76.72 353.05,76.01 353.25,75.34 353.45,74.71 353.65,74.14 353.90,73.52 354.20,72.90 354.50,72.35 354.85,71.78 355.25,71.26 355.70,70.83 356.20,70.44 356.75,70.08 357.30,69.79 357.90,69.54 358.50,69.34 359.10,69.19 359.70,69.06 360.30,68.94 360.90,68.82 361.50,68.71 362.10,68.60 362.70,68.50 363.30,68.41 363.90,68.31 364.50,68.20 365.10,68.08 365.69,67.94 366.29,67.77 366.89,67.60 367.49,67.42 368.09,67.25 368.69,67.08 369.29,66.93 369.89,66.79 370.49,66.65 371.09,66.51 371.69,66.35 372.29,66.17 372.89,65.98 373.49,65.78 374.09,65.57 374.69,65.32 375.24,65.08 375.79,64.81 376.34,64.53 376.89,64.22 377.44,63.91 377.99,63.58 378.54,63.25 379.09,62.91 379.64,62.57 380.19,62.22 380.74,61.88 381.29,61.54 381.84,61.21 382.39,60.89 382.94,60.58 383.49,60.28 384.04,60.00 384.59,59.74 385.19,59.48 385.79,59.25 386.39,59.05 386.99,58.89 387.59,58.76 388.19,58.68 388.79,58.60 389.39,58.53 389.99,58.46 390.59,58.40 391.19,58.33 391.79,58.27 392.39,58.21 392.99,58.15 393.59,58.10 394.19,58.05 394.79,58.00 395.39,57.95 395.99,57.91 396.59,57.87 397.19,57.84 397.79,57.81 398.39,57.78 398.99,57.76 399.59,57.74 400.19,57.72 400.84,57.71 401.49,57.70 402.14,57.70 402.79,57.70 403.43,57.71 404.03,57.73 404.63,57.75 405.23,57.77 405.83,57.79 406.43,57.82 407.03,57.85 407.63,57.88 408.23,57.91 408.83,57.94 409.43,57.97 410.03,58.00 410.63,58.04 411.23,58.07 411.83,58.09 412.43,58.12 413.03,58.14 413.63,58.16 414.23,58.18 414.88,58.19 415.53,58.20 416.18,58.20 416.83,58.19 417.48,58.18 418.08,58.16 418.68,58.14 419.28,58.11 419.88,58.07 420.48,58.03 421.08,57.99 421.68,57.95 422.28,57.90 422.88,57.85 423.48,57.79 424.08,57.74 424.68,57.68 425.28,57.63 425.88,57.57 426.48,57.51 427.08,57.46 427.68,57.40 428.28,57.34 428.88,57.29 429.48,57.24 430.08,57.19 430.68,57.15 431.28,57.09 431.88,57.04 432.48,56.98 433.08,56.92 433.68,56.86 434.28,56.80 434.88,56.74 435.48,56.68 436.08,56.62 436.68,56.56 437.28,56.50 437.88,56.44 438.48,56.38 439.08,56.32 439.68,56.27 440.28,56.22 440.88,56.18 441.47,56.13 442.07,56.09 442.67,56.06 443.27,56.03 443.87,56.00 444.47,55.98 445.07,55.96 445.67,55.94 446.27,55.92 446.87,55.91 447.47,55.89 448.07,55.87 448.67,55.85 449.27,55.83 449.87,55.82 450.47,55.80 451.07,55.79 451.72,55.77 452.37,55.76 453.02,55.75 453.67,55.74 454.32,55.73 454.97,55.72 455.62,55.71 456.27,55.71 456.92,55.70 457.57,55.70 458.22,55.70 458.87,55.71 459.47,55.73 460.07,55.75 460.67,55.78 461.27,55.82 461.87,55.86 462.47,55.91 463.07,55.96 463.67,56.01 464.27,56.07 464.87,56.13 465.47,56.19 466.07,56.25 466.67,56.32 467.27,56.38 467.87,56.44 468.47,56.50 469.07,56.56 469.67,56.62 470.27,56.67 470.87,56.72 471.47,56.77 472.07,56.80 472.67,56.84 473.27,56.88 473.87,56.92 474.47,56.96 475.07,57.00 475.67,57.04 476.27,57.08 476.87,57.12 477.47,57.16 478.07,57.20 478.67,57.24 479.26,57.27 479.86,57.31 480.46,57.34 481.06,57.37 481.66,57.40 482.26,57.42 482.86,57.44 483.46,57.46 484.06,57.48 484.71,57.49 485.36,57.50 486.01,57.50 486.66,57.50 487.31,57.49 487.96,57.48 488.56,57.46 489.16,57.44 489.76,57.42 490.36,57.39 490.96,57.37 491.56,57.33 492.16,57.30 492.76,57.27 493.36,57.23 493.96,57.19 494.56,57.15 495.16,57.11 495.76,57.07 496.36,57.03 496.96,56.99 497.56,56.95 498.16,56.91 498.76,56.88 499.36,56.84 499.96,56.80 500.56,56.77 501.16,56.72 501.76,56.68 502.36,56.63 502.96,56.58 503.56,56.52 504.16,56.47 504.76,56.41 505.36,56.35 505.96,56.30 506.56,56.24 507.16,56.18 507.76,56.13 508.36,56.08 508.96,56.03 509.56,55.98 510.16,55.94 510.76,55.90 511.36,55.87 511.96,55.84 512.56,55.82 513.16,55.81 513.81,55.80 514.46,55.80 515.11,55.81 515.76,55.81 516.41,55.82 517.05,55.84 517.65,55.85 518.25,55.87 518.85,55.89 519.45,55.91 520.05,55.93 520.65,55.95 521.25,55.98 521.85,56.00 522.45,56.03 523.05,56.06 523.65,56.09 524.25,56.12 524.85,56.14 525.45,56.17 526.05,56.20 526.65,56.23 527.25,56.26 527.85,56.29 528.45,56.32 529.05,56.35 529.65,56.39 530.25,56.42 530.85,56.46 531.45,56.50 532.05,56.54 532.65,56.59 533.25,56.63 533.85,56.67 534.45,56.72 535.05,56.77 535.50,56.80" stroke="#9467bd" stroke-width="1.1" stroke-opacity="0.75"/>
<path d="M346.50,126.00 346.55,124.59 346.60,123.19 346.65,121.82 346.70,120.49 346.75,119.21 346.80,118.00 346.85,116.86 346.90,115.80 346.95,114.85 347.00,114.00 347.05,113.23 347.10,112.49 347.15,111.78 347.20,111.09 347.25,110.43 347.30,109.80 347.35,109.19 347.45,108.04 347.55,106.97 347.65,105.98 347.75,105.06 347.85,104.20 347.95,103.39 348.05,102.63 348.15,101.90 348.25,101.22 348.35,100.57 348.45,99.96 348.60,99.08 348.75,98.26 348.90,97.48 349.05,96.73 349.20,95.99 349.35,95.25 349.50,94.51 349.65,93.80 349.80,93.11 349.95,92.43 350.10,91.78 350.25,91.13 350.40,90.50 350.55,89.88 350.70,89.25 350.85,88.63 351.00,88.00 351.15,87.37 351.30,86.73 351.45,86.09 351.60,85.45 351.75,84.81 351.90,84.17 352.05,83.54 352.20,82.93 352.35,82.33 352.55,81.57 352.75,80.84 352.95,80.17 353.15,79.53 353.35,78.92 353.55,78.34 353.80,77.64 354.05,77.00 354.30,76.42 354.60,75.81 354.90,75.25 355.20,74.71 355.55,74.14 355.90,73.64 356.30,73.18 356.80,72.77 357.30,72.43 357.85,72.10 358.40,71.82 358.95,71.58 359.55,71.35 360.15,71.15 360.75,70.99 361.35,70.85 361.95,70.72 362.55,70.60 363.15,70.49 363.75,70.36 364.35,70.22 364.95,70.07 365.54,69.91 366.14,69.75 366.74,69.60 367.34,69.45 367.94,69.31 368.54,69.19 369.14,69.07 369.74,68.96 370.34,68.84 370.94,68.72 371.54,68.59 372.14,68.44 372.74,68.28 373.34,68.11 373.94,67.92 374.54,67.71 375.14,67.47 375.74,67.21 376.29,66.96 376.84,66.68 377.39,66.40 377.94,66.10 378.49,65.80 379.04,65.49 379.59,65.17 380.14,64.85 380.69,64.54 381.24,64.22 381.79,63.91 382.34,63.60 382.89,63.30 383.44,63.01 383.99,62.74 384.54,62.48 385.09,62.23 385.69,61.99 386.29,61.77 386.89,61.57 387.49,61.41 388.09,61.28 388.69,61.17 389.29,61.05 389.89,60.94 390.49,60.83 391.09,60.73 391.69,60.62 392.29,60.52 392.89,60.42 393.49,60.33 394.09,60.24 394.69,60.15 395.29,60.07 395.89,60.00 396.49,59.93 397.09,59.87 397.69,59.81 398.29,59.76 398.89,59.71 399.49,59.67 400.09,59.64 400.69,59.62 401.29,59.61 401.94,59.60 402.59,59.60 403.23,59.60 403.88,59.60 404.53,59.60 405.18,59.60 405.83,59.60 406.48,59.60 407.13,59.60 407.78,59.60 408.43,59.60 409.08,59.60 409.73,59.60 410.38,59.60 411.03,59.60 411.68,59.60 412.33,59.60 412.98,59.60 413.63,59.60 414.28,59.60 414.93,59.60 415.58,59.60 416.23,59.60 416.88,59.60 417.53,59.59 418.18,59.58 418.83,59.57 419.43,59.55 420.03,59.54 420.63,59.52 421.23,59.50 421.83,59.48 422.43,59.45 423.03,59.43 423.63,59.40 424.23,59.38 424.83,59.35 425.43,59.32 426.03,59.29 426.63,59.26 427.23,59.23 427.83,59.20 428.43,59.17 429.03,59.15 429.63,59.12 430.23,59.09 430.83,59.06 431.43,59.02 432.03,58.99 432.63,58.95 433.23,58.90 433.83,58.86 434.43,58.81 435.03,58.77 435.63,58.72 436.23,58.67 436.83,58.62 437.43,58.58 438.03,58.53 438.63,58.49 439.23,58.44 439.83,58.40 440.43,58.36 441.02,58.32 441.62,58.29 442.22,58.26 442.82,58.24 443.42,58.22 444.02,58.20 444.62,58.19 445.27,58.17 445.92,58.16 446.57,58.14 447.22,58.13 447.87,58.12 448.52,58.10 449.17,58.09 449.82,58.08 450.47,58.07 451.12,58.06 451.77,58.05 452.42,58.04 453.07,58.03 453.72,58.02 454.37,58.02 455.02,58.01 455.67,58.01 456.32,58.00 456.97,58.00 457.62,58.00 458.27,58.00 458.92,58.01 459.57,58.02 460.17,58.04 460.77,58.06 461.37,58.09 461.97,58.12 462.57,58.15 463.17,58.19 463.77,58.23 464.37,58.27 464.97,58.31 465.57,58.36 466.17,58.40 466.77,58.45 467.37,58.49 467.97,58.54 468.57,58.58 469.17,58.63 469.77,58.67 470.37,58.71 470.97,58.74 471.57,58.78 472.17,58.81 472.77,58.84 473.37,58.87 473.97,58.90 474.57,58.94 475.17,58.97 475.77,59.01 476.37,59.04 476.97,59.07 477.57,59.11 478.17,59.14 478.77,59.17 479.36,59.20 479.96,59.23 480.56,59.26 481.16,59.29 481.76,59.31 482.36,59.33 482.96,59.35 483.56,59.37 484.21,59.38 484.86,59.39 485.51,59.40 486.16,59.40 486.81,59.40 487.46,59.39 488.11,59.37 488.71,59.35 489.31,59.33 489.91,59.31 490.51,59.28 491.11,59.25 491.71,59.22 492.31,59.18 492.91,59.15 493.51,59.11 494.11,59.07 494.71,59.03 495.31,58.99 495.91,58.95 496.51,58.91 497.11,58.87 497.71,58.84 498.31,58.80 498.91,58.76 499.51,58.73 500.11,58.69 500.71,58.66 501.31,58.62 501.91,58.58 502.51,58.54 503.11,58.50 503.71,58.45 504.31,58.41 504.91,58.36 505.51,58.32 506.11,58.27 506.71,58.23 507.31,58.18 507.91,58.14 508.51,58.10 509.11,58.07 509.71,58.03 510.31,58.00 510.91,57.97 511.51,57.95 512.11,57.93 512.71,57.91 513.36,57.90 514.01,57.90 514.66,57.90 515.31,57.90 515.96,57.91 516.60,57.91 517.25,57.92 517.90,57.93 518.55,57.94 519.20,57.95 519.85,57.97 520.50,57.98 521.10,58.00 521.70,58.01 522.30,58.03 522.90,58.04 523.50,58.06 524.10,58.08 524.70,58.10 525.30,58.11 525.90,58.13 526.50,58.15 527.10,58.17 527.70,58.19 528.30,58.21 528.90,58.23 529.50,58.26 530.10,58.28 530.70,58.31 531.30,58.34 531.90,58.38 532.50,58.41 533.10,58.45 533.70,58.49 534.30,58.52 534.90,58.56 535.50,58.60" stroke="#8c564b" stroke-width="1.1" stroke-opacity="0.75"/>
<path d="M346.50,126.00 346.55,124.72 346.60,123.46 346.65,122.22 346.70,121.01 346.75,119.85 346.80,118.74 346.85,117.69 346.90,116.71 346.95,115.81 347.00,115.00 347.05,114.25 347.10,113.52 347.15,112.82 347.20,112.14 347.25,111.47 347.30,110.83 347.35,110.21 347.45,109.04 347.55,107.95 347.65,106.94 347.75,106.00 347.85,105.15 347.95,104.37 348.05,103.65 348.15,102.99 348.25,102.37 348.40,101.50 348.55,100.70 348.70,99.96 348.85,99.26 349.00,98.60 349.15,97.95 349.30,97.31 349.45,96.67 349.60,96.00 349.75,95.33 349.90,94.67 350.05,94.02 350.20,93.39 350.35,92.76 350.50,92.15 350.65,91.54 350.80,90.94 350.95,90.35 351.10,89.77 351.30,89.00 351.50,88.25 351.70,87.49 351.90,86.73 352.10,85.99 352.30,85.26 352.50,84.55 352.70,83.86 352.90,83.21 353.10,82.59 353.30,82.01 353.55,81.31 353.80,80.64 354.05,80.00 354.30,79.40 354.55,78.85 354.85,78.26 355.20,77.69 355.55,77.16 355.90,76.67 356.30,76.16 356.70,75.71 357.15,75.28 357.65,74.90 358.20,74.54 358.75,74.23 359.30,73.97 359.90,73.73 360.50,73.55 361.10,73.40 361.70,73.26 362.30,73.14 362.90,73.03 363.50,72.91 364.10,72.78 364.70,72.64 365.30,72.49 365.89,72.35 366.49,72.21 367.09,72.08 367.69,71.96 368.29,71.85 368.89,71.76 369.49,71.69 370.09,71.61 370.69,71.53 371.29,71.44 371.89,71.33 372.49,71.20 373.09,71.05 373.69,70.89 374.29,70.71 374.89,70.48 375.44,70.24 375.99,69.97 376.54,69.68 377.09,69.36 377.64,69.02 378.19,68.67 378.69,68.33 379.19,67.99 379.69,67.64 380.19,67.29 380.69,66.94 381.19,66.59 381.69,66.24 382.19,65.90 382.69,65.57 383.24,65.22 383.79,64.88 384.34,64.57 384.89,64.27 385.44,64.01 386.04,63.75 386.64,63.53 387.24,63.35 387.84,63.23 388.44,63.14 389.04,63.05 389.64,62.97 390.24,62.88 390.84,62.80 391.44,62.73 392.04,62.66 392.64,62.59 393.24,62.52 393.84,62.45 394.44,62.39 395.04,62.34 395.64,62.28 396.24,62.24 396.84,62.19 397.44,62.15 398.04,62.11 398.64,62.08 399.24,62.06 399.84,62.04 400.44,62.02 401.09,62.01 401.74,62.00 402.39,62.00 403.04,62.00 403.68,62.00 404.33,62.00 404.98,62.00 405.63,62.00 406.28,62.00 406.93,62.00 407.58,62.00 408.23,62.00 408.88,62.00 409.53,62.00 410.18,62.00 410.83,62.00 411.48,62.00 412.13,62.00 412.78,62.00 413.43,62.00 414.08,62.00 414.73,62.00 415.38,62.00 416.03,62.00 416.68,62.00 417.33,62.00 417.98,61.99 418.63,61.99 419.28,61.98 419.93,61.97 420.58,61.96 421.23,61.95 421.88,61.93 422.53,61.92 423.13,61.91 423.73,61.89 424.33,61.88 424.93,61.86 425.53,61.84 426.13,61.83 426.73,61.81 427.33,61.79 427.93,61.77 428.53,61.75 429.13,61.73 429.73,61.71 430.33,61.69 430.93,61.66 431.53,61.62 432.13,61.57 432.73,61.52 433.33,61.46 433.93,61.40 434.53,61.33 435.13,61.26 435.73,61.19 436.33,61.12 436.93,61.05 437.53,60.98 438.13,60.91 438.73,60.84 439.33,60.78 439.93,60.72 440.53,60.66 441.12,60.61 441.72,60.57 442.32,60.54 442.92,60.52 443.52,60.50 444.17,60.50 444.82,60.50 445.47,60.50 446.12,60.50 446.77,60.50 447.42,60.50 448.07,60.50 448.72,60.50 449.37,60.50 450.02,60.50 450.67,60.50 451.32,60.50 451.97,60.50 452.62,60.50 453.27,60.50 453.92,60.50 454.57,60.50 455.22,60.50 455.87,60.50 456.52,60.50 457.17,60.50 457.82,60.50 458.47,60.50 459.12,60.51 459.77,60.51 460.42,60.53 461.02,60.54 461.62,60.56 462.22,60.58 462.82,60.60 463.42,60.62 464.02,60.65 464.62,60.67 465.22,60.70 465.82,60.72 466.42,60.75 467.02,60.78 467.62,60.81 468.22,60.84 468.82,60.87 469.42,60.89 470.02,60.92 470.62,60.95 471.22,60.97 471.82,60.99 472.42,61.02 473.02,61.04 473.62,61.06 474.22,61.09 474.82,61.12 475.42,61.14 476.02,61.17 476.62,61.20 477.22,61.23 477.82,61.26 478.42,61.29 479.01,61.31 479.61,61.34 480.21,61.36 480.81,61.39 481.41,61.41 482.01,61.43 482.61,61.45 483.21,61.46 483.86,61.48 484.51,61.49 485.16,61.50 485.81,61.50 486.46,61.50 487.11,61.49 487.76,61.49 488.41,61.47 489.01,61.46 489.61,61.44 490.21,61.42 490.81,61.40 491.41,61.38 492.01,61.36 492.61,61.33 493.21,61.30 493.81,61.28 494.41,61.25 495.01,61.22 495.61,61.19 496.21,61.16 496.81,61.13 497.41,61.11 498.01,61.08 498.61,61.05 499.21,61.03 499.81,61.01 500.41,60.98 501.01,60.96 501.61,60.94 502.21,60.91 502.81,60.88 503.41,60.86 504.01,60.83 504.61,60.80 505.21,60.77 505.81,60.74 506.41,60.71 507.01,60.69 507.61,60.66 508.21,60.64 508.81,60.61 509.41,60.59 510.01,60.57 510.61,60.55 511.21,60.54 511.86,60.52 512.51,60.51 513.16,60.50 513.81,60.50 514.46,60.50 515.11,60.50 515.76,60.50 516.41,60.50 517.05,60.50 517.70,60.50 518.35,60.50 519.00,60.50 519.65,60.50 520.30,60.50 520.95,60.50 521.60,60.50 522.25,60.50 522.90,60.50 523.55,60.50 524.20,60.50 524.85,60.50 525.50,60.50 526.15,60.50 526.80,60.50 527.45,60.50 528.10,60.50 528.75,60.51 529.40,60.52 530.00,60.54 530.60,60.57 531.20,60.60 531.80,60.64 532.40,60.67 533.00,60.72 533.60,60.76 534.20,60.80 534.80,60.85 535.40,60.89 535.50,60.90" stroke="#e377c2" stroke-width="1.1" stroke-opacity="0.75"/>
<path d="M346.50,126.00 346.55,124.70 346.60,123.40 346.65,122.12 346.70,120.87 346.75,119.68 346.80,118.55 346.85,117.51 346.90,116.55 346.95,115.71 347.00,115.00 347.05,114.37 347.10,113.77 347.20,112.65 347.30,111.62 347.40,110.68 347.50,109.82 347.60,109.02 347.70,108.27 347.80,107.57 347.90,106.91 348.00,106.26 348.10,105.63 348.20,105.00 348.30,104.38 348.40,103.79 348.55,102.94 348.70,102.14 348.85,101.37 349.00,100.64 349.15,99.94 349.30,99.25 349.45,98.57 349.60,97.90 349.75,97.23 349.90,96.55 350.05,95.88 350.20,95.22 350.35,94.56 350.50,93.92 350.65,93.28 350.80,92.67 350.95,92.06 351.10,91.47 351.30,90.72 351.50,90.00 351.70,89.32 351.90,88.64 352.10,87.99 352.30,87.35 352.50,86.73 352.70,86.14 352.90,85.57 353.15,84.89 353.40,84.25 353.65,83.65 353.90,83.06 354.15,82.50 354.45,81.86 354.75,81.26 355.05,80.72 355.40,80.15 355.75,79.66 356.15,79.14 356.55,78.67 357.00,78.19 357.45,77.76 357.95,77.34 358.45,76.97 359.00,76.61 359.55,76.30 360.10,76.06 360.70,75.85 361.30,75.67 361.90,75.51 362.50,75.36 363.10,75.22 363.70,75.08 364.30,74.92 364.90,74.77 365.49,74.61 366.09,74.46 366.69,74.31 367.29,74.16 367.89,74.02 368.49,73.90 369.09,73.78 369.69,73.67 370.29,73.55 370.89,73.43 371.49,73.30 372.09,73.16 372.69,73.00 373.29,72.83 373.89,72.64 374.49,72.42 375.09,72.17 375.64,71.91 376.19,71.64 376.74,71.34 377.29,71.02 377.84,70.69 378.39,70.35 378.94,70.00 379.49,69.64 380.04,69.28 380.59,68.92 381.14,68.56 381.69,68.20 382.24,67.84 382.79,67.50 383.34,67.17 383.89,66.85 384.44,66.55 384.99,66.27 385.54,66.01 386.14,65.76 386.74,65.54 387.34,65.36 387.94,65.21 388.54,65.09 389.14,64.98 389.74,64.87 390.34,64.76 390.94,64.65 391.54,64.55 392.14,64.45 392.74,64.35 393.34,64.26 393.94,64.17 394.54,64.09 395.14,64.01 395.74,63.94 396.34,63.87 396.94,63.80 397.54,63.74 398.14,63.69 398.74,63.64 399.34,63.60 399.94,63.57 400.54,63.54 401.14,63.52 401.74,63.50 402.39,63.49 403.04,63.49 403.68,63.48 404.33,63.47 404.98,63.47 405.63,63.46 406.28,63.46 406.93,63.45 407.58,63.45 408.23,63.45 408.88,63.44 409.53,63.44 410.18,63.44 410.83,63.43 411.48,63.43 412.13,63.43 412.78,63.42 413.43,63.42 414.08,63.42 414.73,63.41 415.38,63.41 416.03,63.40 416.68,63.39 417.33,63.39 417.98,63.38 418.63,63.37 419.28,63.36 419.93,63.36 420.58,63.35 421.23,63.34 421.88,63.33 422.53,63.32 423.18,63.31 423.83,63.30 424.48,63.29 425.13,63.28 425.78,63.27 426.43,63.26 427.08,63.25 427.73,63.24 428.38,63.23 429.03,63.22 429.68,63.21 430.33,63.19 430.98,63.18 431.63,63.17 432.28,63.16 432.93,63.15 433.58,63.13 434.23,63.12 434.88,63.10 435.53,63.09 436.18,63.08 436.83,63.06 437.48,63.05 438.13,63.03 438.78,63.02 439.43,63.00 440.08,62.99 440.73,62.97 441.37,62.96 442.02,62.94 442.67,62.93 443.32,62.91 443.97,62.90 444.62,62.89 445.22,62.87 445.82,62.86 446.42,62.84 447.02,62.82 447.62,62.81 448.22,62.79 448.82,62.77 449.42,62.76 450.02,62.74 450.62,62.72 451.22,62.71 451.82,62.69 452.42,62.68 453.02,62.66 453.67,62.65 454.32,62.64 454.97,62.63 455.62,62.62 456.27,62.61 456.92,62.60 457.57,62.60 458.22,62.60 458.87,62.61 459.52,62.62 460.12,62.63 460.72,62.65 461.32,62.67 461.92,62.69 462.52,62.72 463.12,62.75 463.72,62.78 464.32,62.81 464.92,62.85 465.52,62.88 466.12,62.91 466.72,62.95 467.32,62.98 467.92,63.02 468.52,63.05 469.12,63.08 469.72,63.11 470.32,63.14 470.92,63.16 471.52,63.19 472.12,63.20 472.72,63.22 473.32,63.24 473.92,63.26 474.52,63.27 475.12,63.29 475.72,63.31 476.32,63.33 476.92,63.34 477.52,63.36 478.12,63.38 478.72,63.39 479.31,63.41 479.91,63.42 480.56,63.44 481.21,63.45 481.86,63.46 482.51,63.47 483.16,63.48 483.81,63.49 484.46,63.49 485.11,63.50 485.76,63.50 486.41,63.50 487.06,63.50 487.71,63.49 488.36,63.49 489.01,63.48 489.66,63.47 490.31,63.46 490.96,63.45 491.61,63.43 492.26,63.42 492.86,63.40 493.46,63.39 494.06,63.37 494.66,63.36 495.26,63.34 495.86,63.32 496.46,63.30 497.06,63.29 497.66,63.27 498.26,63.25 498.86,63.23 499.46,63.22 500.06,63.20 500.66,63.18 501.26,63.16 501.86,63.13 502.46,63.10 503.06,63.07 503.66,63.04 504.26,63.01 504.86,62.97 505.46,62.94 506.06,62.90 506.66,62.87 507.26,62.84 507.86,62.80 508.46,62.77 509.06,62.74 509.66,62.71 510.26,62.68 510.86,62.66 511.46,62.64 512.06,62.62 512.71,62.61 513.36,62.60 514.01,62.60 514.66,62.60 515.31,62.60 515.96,62.61 516.60,62.62 517.25,62.62 517.90,62.63 518.55,62.65 519.20,62.66 519.85,62.67 520.45,62.69 521.05,62.70 521.65,62.72 522.25,62.73 522.85,62.75 523.45,62.77 524.05,62.78 524.65,62.80 525.25,62.82 525.85,62.84 526.45,62.85 527.05,62.87 527.65,62.89 528.25,62.91 528.85,62.93 529.45,62.95 530.05,62.97 530.65,62.99 531.25,63.01 531.85,63.04 532.45,63.06 533.05,63.09 533.65,63.12 534.25,63.14 534.85,63.17 535.45,63.20 535.50,63.20" stroke="#7f7f7f" stroke-width="1.1" stroke-opacity="0.75"/>
<path d="M346.50,126.00 346.55,125.17 346.60,124.35 346.65,123.54 346.70,122.75 346.75,121.96 346.80,121.20 346.85,120.45 346.90,119.73 346.95,119.03 347.00,118.36 347.05,117.72 347.10,117.11 347.20,116.00 347.30,115.00 347.40,114.06 347.50,113.18 347.60,112.34 347.70,111.55 347.80,110.79 347.90,110.07 348.00,109.36 348.10,108.68 348.20,108.01 348.30,107.34 348.40,106.67 348.50,106.00 348.60,105.33 348.70,104.67 348.80,104.02 348.90,103.38 349.00,102.75 349.10,102.12 349.20,101.51 349.30,100.91 349.45,100.03 349.60,99.17 349.75,98.34 349.90,97.53 350.05,96.75 350.20,95.97 350.35,95.21 350.50,94.47 350.65,93.75 350.80,93.06 350.95,92.40 351.10,91.77 351.25,91.19 351.45,90.47 351.65,89.79 351.85,89.15 352.05,88.54 352.25,87.95 352.50,87.27 352.75,86.62 353.00,86.00 353.25,85.41 353.50,84.82 353.75,84.24 354.00,83.70 354.30,83.09 354.60,82.56 354.95,82.06 355.40,81.57 355.85,81.14 356.35,80.73 356.85,80.38 357.40,80.06 357.95,79.78 358.55,79.52 359.15,79.30 359.75,79.09 360.35,78.88 360.95,78.69 361.55,78.51 362.15,78.33 362.75,78.16 363.35,77.99 363.95,77.82 364.55,77.63 365.15,77.45 365.74,77.26 366.34,77.07 366.94,76.89 367.54,76.72 368.14,76.56 368.74,76.42 369.34,76.29 369.94,76.16 370.54,76.03 371.14,75.89 371.74,75.73 372.34,75.56 372.94,75.37 373.54,75.17 374.14,74.95 374.74,74.70 375.29,74.44 375.84,74.16 376.39,73.87 376.94,73.56 377.49,73.23 378.04,72.89 378.59,72.54 379.14,72.19 379.69,71.83 380.24,71.47 380.79,71.11 381.34,70.75 381.89,70.40 382.44,70.05 382.99,69.72 383.54,69.40 384.09,69.09 384.64,68.81 385.19,68.54 385.74,68.30 386.34,68.06 386.94,67.86 387.54,67.70 388.14,67.57 388.74,67.46 389.34,67.36 389.94,67.25 390.54,67.16 391.14,67.06 391.74,66.97 392.34,66.88 392.94,66.80 393.54,66.71 394.14,66.64 394.74,66.56 395.34,66.50 395.94,66.43 396.54,66.37 397.14,66.31 397.74,66.26 398.34,66.21 398.94,66.17 399.54,66.12 400.14,66.09 400.74,66.06 401.34,66.03 401.94,66.00 402.54,65.98 403.14,65.96 403.73,65.94 404.33,65.92 404.93,65.90 405.53,65.88 406.13,65.86 406.73,65.85 407.33,65.83 407.93,65.81 408.53,65.80 409.13,65.78 409.78,65.77 410.43,65.76 411.08,65.74 411.73,65.73 412.38,65.72 413.03,65.72 413.68,65.71 414.33,65.71 414.98,65.70 415.63,65.70 416.28,65.70 416.93,65.70 417.58,65.70 418.23,65.70 418.88,65.70 419.53,65.70 420.18,65.70 420.83,65.70 421.48,65.70 422.13,65.70 422.78,65.70 423.43,65.70 424.08,65.70 424.73,65.70 425.38,65.70 426.03,65.70 426.68,65.70 427.33,65.70 427.98,65.70 428.63,65.70 429.28,65.70 429.93,65.70 430.58,65.70 431.23,65.69 431.88,65.69 432.53,65.67 433.18,65.66 433.78,65.65 434.38,65.63 434.98,65.61 435.58,65.60 436.18,65.58 436.78,65.56 437.38,65.54 437.98,65.52 438.58,65.50 439.18,65.48 439.78,65.47 440.38,65.45 440.98,65.44 441.62,65.42 442.27,65.41 442.92,65.41 443.57,65.40 444.22,65.40 444.87,65.40 445.52,65.40 446.17,65.40 446.82,65.40 447.47,65.40 448.12,65.40 448.77,65.40 449.42,65.40 450.07,65.40 450.72,65.40 451.37,65.40 452.02,65.40 452.67,65.40 453.32,65.40 453.97,65.40 454.62,65.40 455.27,65.40 455.92,65.40 456.57,65.40 457.22,65.40 457.87,65.40 458.52,65.40 459.17,65.40 459.82,65.40 460.47,65.40 461.12,65.40 461.77,65.40 462.42,65.40 463.07,65.40 463.72,65.40 464.37,65.40 465.02,65.40 465.67,65.40 466.32,65.40 466.97,65.40 467.62,65.40 468.27,65.40 468.92,65.40 469.57,65.40 470.22,65.40 470.87,65.40 471.52,65.40 472.17,65.40 472.82,65.40 473.47,65.41 474.12,65.42 474.77,65.43 475.42,65.44 476.02,65.46 476.62,65.48 477.22,65.49 477.82,65.51 478.42,65.53 479.01,65.55 479.61,65.57 480.21,65.59 480.81,65.61 481.41,65.62 482.01,65.64 482.61,65.66 483.26,65.67 483.91,65.68 484.56,65.69 485.21,65.70 485.86,65.70 486.51,65.70 487.16,65.69 487.81,65.69 488.46,65.68 489.11,65.66 489.71,65.65 490.31,65.63 490.91,65.62 491.51,65.60 492.11,65.58 492.71,65.56 493.31,65.54 493.91,65.52 494.51,65.50 495.11,65.48 495.71,65.47 496.31,65.45 496.91,65.44 497.56,65.42 498.21,65.41 498.86,65.41 499.51,65.40 500.16,65.40 500.81,65.40 501.46,65.40 502.11,65.40 502.76,65.40 503.41,65.40 504.06,65.40 504.71,65.40 505.36,65.40 506.01,65.40 506.66,65.40 507.31,65.40 507.96,65.40 508.61,65.40 509.26,65.40 509.91,65.40 510.56,65.40 511.21,65.40 511.86,65.40 512.51,65.40 513.16,65.40 513.81,65.40 514.46,65.40 515.11,65.40 515.76,65.40 516.41,65.40 517.05,65.40 517.70,65.40 518.35,65.40 519.00,65.40 519.65,65.40 520.30,65.40 520.95,65.40 521.60,65.40 522.25,65.40 522.90,65.40 523.55,65.40 524.20,65.40 524.85,65.40 525.50,65.40 526.15,65.40 526.80,65.40 527.45,65.40 528.10,65.40 528.75,65.40 529.40,65.42 530.00,65.43 530.60,65.45 531.20,65.48 531.80,65.50 532.40,65.53 533.00,65.56 533.60,65.59 534.20,65.63 534.80,65.66 535.40,65.69 535.50,65.70" stroke="#bcbd22" stroke-width="1.1" stroke-opacity="0.75"/>
<line x1="346.5" y1="40.6" x2="535.5" y2="40.6" stroke="#ff3344" stroke-opacity="0.85" stroke-width="1.0" stroke-dasharray="2.2 1.09"/>
<line x1="346.5" y1="61.2" x2="535.5" y2="61.2" stroke="#ff3344" stroke-opacity="0.85" stroke-width="1.0" stroke-dasharray="2.2 1.09"/>
</g>
<rect x="346.5" y="15.7" width="189.0" height="114.99999999999999" fill="none" stroke="#959595" stroke-width="0.9"/>
<line x1="345.3" y1="122.8" x2="346.5" y2="122.8" stroke="#666" stroke-width="0.5"/>
<line x1="345.3" y1="102.3" x2="346.5" y2="102.3" stroke="#666" stroke-width="0.5"/>
<line x1="345.3" y1="81.80000000000001" x2="346.5" y2="81.80000000000001" stroke="#666" stroke-width="0.5"/>
<line x1="345.3" y1="61.3" x2="346.5" y2="61.3" stroke="#666" stroke-width="0.5"/>
<line x1="345.3" y1="40.8" x2="346.5" y2="40.8" stroke="#666" stroke-width="0.5"/>
<line x1="345.3" y1="20.3" x2="346.5" y2="20.3" stroke="#666" stroke-width="0.5"/>
<line x1="346.5" y1="130.7" x2="346.5" y2="131.89999999999998" stroke="#666" stroke-width="0.5"/>
<line x1="371.87" y1="130.7" x2="371.87" y2="131.89999999999998" stroke="#666" stroke-width="0.5"/>
<line x1="397.24" y1="130.7" x2="397.24" y2="131.89999999999998" stroke="#666" stroke-width="0.5"/>
<line x1="422.61" y1="130.7" x2="422.61" y2="131.89999999999998" stroke="#666" stroke-width="0.5"/>
<line x1="447.98" y1="130.7" x2="447.98" y2="131.89999999999998" stroke="#666" stroke-width="0.5"/>
<line x1="473.35" y1="130.7" x2="473.35" y2="131.89999999999998" stroke="#666" stroke-width="0.5"/>
<line x1="498.72" y1="130.7" x2="498.72" y2="131.89999999999998" stroke="#666" stroke-width="0.5"/>
<line x1="524.09" y1="130.7" x2="524.09" y2="131.89999999999998" stroke="#666" stroke-width="0.5"/>
<g font-family="DejaVu Sans" font-size="4.2" fill="#1e1e1e" stroke="#1e1e1e" stroke-width="0.1"><text x="343.8" y="124.25" text-anchor="end">0.5</text><text x="343.8" y="103.75" text-anchor="end">0.6</text><text x="343.8" y="83.25" text-anchor="end">0.7</text><text x="343.8" y="62.75" text-anchor="end">0.8</text><text x="343.8" y="42.25" text-anchor="end">0.9</text><text x="343.8" y="21.75" text-anchor="end">1.0</text><text x="346.5" y="137.20" text-anchor="middle">0</text><text x="371.87" y="137.20" text-anchor="middle">20</text><text x="397.24" y="137.20" text-anchor="middle">40</text><text x="422.61" y="137.20" text-anchor="middle">60</text><text x="447.98" y="137.20" text-anchor="middle">80</text><text x="473.35" y="137.20" text-anchor="middle">100</text><text x="498.72" y="137.20" text-anchor="middle">120</text><text x="524.09" y="137.20" text-anchor="middle">140</text></g>
<text x="441.0" y="144.00" text-anchor="middle" font-family="DejaVu Sans" font-size="5.3" fill="#111" stroke="#111" stroke-width="0.1">Epoch</text>
<text transform="translate(334.60,73.60) rotate(-90)" text-anchor="middle" font-family="DejaVu Sans" font-size="5.3" fill="#111" stroke="#111" stroke-width="0.1">Accuracy</text>
<rect x="501.4" y="72.2" width="32.10000000000002" height="55.999999999999986" rx="0.8" fill="#fff" fill-opacity="0.8" stroke="#d8d8d8" stroke-width="0.4"/>
<line x1="503.3" y1="76.0" x2="512.1" y2="76.0" stroke="#1f77b4" stroke-width="1.32" stroke-opacity="0.68"/>
<text x="515.2" y="77.45" font-family="DejaVu Sans" font-size="4.05" fill="#1a1a1a" stroke="#1a1a1a" stroke-width="0.1">K=200</text>
<line x1="503.3" y1="82.07" x2="512.1" y2="82.07" stroke="#ff7f0e" stroke-width="1.32" stroke-opacity="0.68"/>
<text x="515.2" y="83.52" font-family="DejaVu Sans" font-size="4.05" fill="#1a1a1a" stroke="#1a1a1a" stroke-width="0.1">K=300</text>
<line x1="503.3" y1="88.14" x2="512.1" y2="88.14" stroke="#2ca02c" stroke-width="1.32" stroke-opacity="0.68"/>
<text x="515.2" y="89.59" font-family="DejaVu Sans" font-size="4.05" fill="#1a1a1a" stroke="#1a1a1a" stroke-width="0.1">K=400</text>
<line x1="503.3" y1="94.21000000000001" x2="512.1" y2="94.21000000000001" stroke="#d62728" stroke-width="1.32" stroke-opacity="0.68"/>
<text x="515.2" y="95.66" font-family="DejaVu Sans" font-size="4.05" fill="#1a1a1a" stroke="#1a1a1a" stroke-width="0.1">K=500</text>
<line x1="503.3" y1="100.28" x2="512.1" y2="100.28" stroke="#9467bd" stroke-width="1.32" stroke-opacity="0.68"/>
<text x="515.2" y="101.73" font-family="DejaVu Sans" font-size="4.05" fill="#1a1a1a" stroke="#1a1a1a" stroke-width="0.1">K=600</text>
<line x1="503.3" y1="106.35" x2="512.1" y2="106.35" stroke="#8c564b" stroke-width="1.32" stroke-opacity="0.68"/>
<text x="515.2" y="107.80" font-family="DejaVu Sans" font-size="4.05" fill="#1a1a1a" stroke="#1a1a1a" stroke-width="0.1">K=700</text>
<line x1="503.3" y1="112.42" x2="512.1" y2="112.42" stroke="#e377c2" stroke-width="1.32" stroke-opacity="0.68"/>
<text x="515.2" y="113.87" font-family="DejaVu Sans" font-size="4.05" fill="#1a1a1a" stroke="#1a1a1a" stroke-width="0.1">K=800</text>
<line x1="503.3" y1="118.49000000000001" x2="512.1" y2="118.49000000000001" stroke="#7f7f7f" stroke-width="1.32" stroke-opacity="0.68"/>
<text x="515.2" y="119.94" font-family="DejaVu Sans" font-size="4.05" fill="#1a1a1a" stroke="#1a1a1a" stroke-width="0.1">K=900</text>
<line x1="503.3" y1="124.56" x2="512.1" y2="124.56" stroke="#bcbd22" stroke-width="1.32" stroke-opacity="0.68"/>
<text x="515.2" y="126.01" font-family="DejaVu Sans" font-size="4.05" fill="#1a1a1a" stroke="#1a1a1a" stroke-width="0.1">K=1000</text>
<clipPath id="c34183"><rect x="34.5" y="183.5" width="189.0" height="114.10000000000002"/></clipPath>
<g clip-path="url(#c34183)" fill="none" stroke-linejoin="round" stroke-linecap="butt">
<path d="M34.50,284.00 34.55,283.32 34.60,282.64 34.65,281.95 34.70,281.26 34.75,280.56 34.80,279.86 34.85,279.15 34.90,278.44 34.95,277.72 35.00,277.00 35.05,276.27 35.10,275.52 35.15,274.75 35.20,273.98 35.25,273.20 35.30,272.42 35.35,271.64 35.40,270.88 35.45,270.13 35.50,269.40 35.55,268.69 35.60,268.00 35.65,267.34 35.70,266.68 35.75,266.02 35.80,265.38 35.85,264.73 35.90,264.10 35.95,263.48 36.00,262.87 36.05,262.27 36.15,261.11 36.25,260.01 36.35,258.99 36.45,258.04 36.55,257.14 36.65,256.29 36.75,255.48 36.85,254.70 36.95,253.95 37.05,253.21 37.15,252.50 37.25,251.79 37.35,251.08 37.45,250.37 37.55,249.64 37.65,248.93 37.75,248.21 37.85,247.50 37.95,246.81 38.05,246.12 38.15,245.44 38.25,244.78 38.35,244.14 38.45,243.51 38.55,242.91 38.70,242.03 38.85,241.19 39.00,240.37 39.15,239.57 39.30,238.79 39.45,238.00 39.60,237.21 39.75,236.40 39.90,235.59 40.05,234.79 40.20,234.00 40.35,233.22 40.50,232.48 40.65,231.78 40.80,231.09 40.95,230.43 41.10,229.79 41.25,229.16 41.40,228.56 41.55,227.97 41.75,227.22 41.95,226.50 42.15,225.81 42.35,225.13 42.55,224.48 42.75,223.86 42.95,223.25 43.15,222.66 43.40,221.96 43.65,221.29 43.90,220.64 44.15,220.01 44.40,219.40 44.65,218.78 44.90,218.17 45.15,217.57 45.40,216.97 45.65,216.40 45.90,215.84 46.20,215.21 46.50,214.62 46.80,214.05 47.10,213.51 47.45,212.91 47.80,212.35 48.15,211.83 48.55,211.29 48.95,210.78 49.35,210.31 49.80,209.81 50.25,209.35 50.70,208.91 51.15,208.49 51.65,208.07 52.15,207.70 52.70,207.36 53.25,207.06 53.79,206.80 54.34,206.56 54.94,206.32 55.54,206.11 56.14,205.92 56.74,205.74 57.34,205.58 57.94,205.42 58.54,205.26 59.14,205.11 59.74,204.98 60.34,204.84 60.94,204.71 61.54,204.57 62.14,204.43 62.74,204.27 63.34,204.10 63.94,203.92 64.54,203.72 65.14,203.51 65.74,203.30 66.34,203.07 66.94,202.83 67.54,202.59 68.14,202.33 68.69,202.09 69.24,201.85 69.79,201.60 70.34,201.34 70.89,201.08 71.44,200.81 71.99,200.54 72.54,200.26 73.09,199.97 73.64,199.69 74.19,199.41 74.74,199.13 75.29,198.86 75.84,198.58 76.39,198.30 76.94,198.03 77.49,197.75 78.04,197.47 78.59,197.20 79.14,196.92 79.69,196.65 80.24,196.38 80.79,196.11 81.34,195.84 81.89,195.57 82.44,195.30 82.99,195.04 83.54,194.78 84.09,194.52 84.64,194.26 85.19,194.02 85.74,193.77 86.29,193.52 86.84,193.28 87.39,193.04 87.99,192.78 88.59,192.54 89.19,192.30 89.79,192.08 90.39,191.87 90.99,191.66 91.58,191.46 92.18,191.26 92.78,191.07 93.38,190.90 93.98,190.74 94.58,190.59 95.18,190.46 95.78,190.34 96.38,190.23 96.98,190.12 97.58,190.02 98.18,189.92 98.78,189.84 99.38,189.76 99.98,189.70 100.58,189.64 101.18,189.59 101.78,189.53 102.38,189.48 102.98,189.43 103.58,189.39 104.18,189.35 104.78,189.32 105.38,189.31 106.03,189.30 106.68,189.31 107.28,189.33 107.88,189.36 108.48,189.41 109.08,189.45 109.68,189.51 110.28,189.56 110.88,189.61 111.48,189.66 112.08,189.71 112.68,189.75 113.28,189.79 113.88,189.84 114.48,189.89 115.08,189.94 115.68,189.98 116.28,190.03 116.88,190.08 117.48,190.13 118.08,190.17 118.68,190.21 119.28,190.25 119.88,190.29 120.48,190.33 121.08,190.37 121.68,190.41 122.28,190.45 122.88,190.49 123.48,190.53 124.08,190.57 124.68,190.61 125.28,190.64 125.88,190.68 126.48,190.71 127.08,190.73 127.68,190.76 128.28,190.78 128.88,190.79 129.52,190.80 130.17,190.80 130.82,190.80 131.47,190.79 132.12,190.78 132.77,190.77 133.37,190.75 133.97,190.74 134.57,190.72 135.17,190.70 135.77,190.68 136.37,190.66 136.97,190.63 137.57,190.61 138.17,190.58 138.77,190.55 139.37,190.53 139.97,190.50 140.57,190.47 141.17,190.44 141.77,190.39 142.37,190.35 142.97,190.30 143.57,190.25 144.17,190.19 144.77,190.13 145.37,190.07 145.97,190.01 146.57,189.94 147.17,189.88 147.77,189.82 148.37,189.76 148.97,189.70 149.57,189.64 150.17,189.58 150.77,189.53 151.37,189.47 151.97,189.41 152.57,189.36 153.17,189.30 153.77,189.24 154.37,189.18 154.97,189.12 155.57,189.06 156.17,189.01 156.77,188.95 157.37,188.90 157.97,188.85 158.57,188.80 159.17,188.76 159.77,188.71 160.37,188.68 160.97,188.64 161.57,188.60 162.17,188.56 162.77,188.52 163.37,188.48 163.97,188.45 164.57,188.43 165.17,188.41 165.82,188.40 166.47,188.40 167.11,188.41 167.76,188.41 168.41,188.42 169.06,188.43 169.71,188.45 170.36,188.46 170.96,188.48 171.56,188.49 172.16,188.50 172.76,188.52 173.36,188.54 173.96,188.56 174.56,188.58 175.16,188.61 175.76,188.64 176.36,188.66 176.96,188.69 177.56,188.72 178.16,188.75 178.76,188.79 179.36,188.82 179.96,188.85 180.56,188.88 181.16,188.91 181.76,188.94 182.36,188.97 182.96,189.00 183.56,189.04 184.16,189.07 184.76,189.10 185.36,189.14 185.96,189.17 186.56,189.21 187.16,189.24 187.76,189.28 188.36,189.31 188.96,189.34 189.56,189.38 190.16,189.41 190.76,189.44 191.36,189.48 191.96,189.52 192.56,189.56 193.16,189.61 193.76,189.65 194.36,189.68 194.96,189.72 195.56,189.75 196.16,189.77 196.76,189.79 197.41,189.80 198.06,189.80 198.71,189.80 199.36,189.79 200.01,189.79 200.66,189.78 201.31,189.78 201.96,189.77 202.61,189.76 203.26,189.75 203.91,189.74 204.56,189.73 205.20,189.72 205.85,189.70 206.50,189.69 207.10,189.67 207.70,189.65 208.30,189.63 208.90,189.60 209.50,189.58 210.10,189.54 210.70,189.51 211.30,189.48 211.90,189.44 212.50,189.40 213.10,189.36 213.70,189.32 214.30,189.28 214.90,189.23 215.50,189.18 216.10,189.13 216.70,189.07 217.30,189.01 217.90,188.95 218.50,188.88 219.10,188.81 219.70,188.73 220.30,188.65 220.90,188.57 221.50,188.49 222.10,188.41 222.70,188.32 223.30,188.23 223.50,188.20" stroke="#1f77b4" stroke-width="1.1" stroke-opacity="0.75"/>
<path d="M34.50,293.00 34.60,291.84 34.70,290.71 34.80,289.60 34.90,288.53 35.00,287.50 35.10,286.50 35.20,285.53 35.30,284.59 35.40,283.67 35.50,282.76 35.60,281.88 35.70,281.00 35.80,280.14 35.90,279.29 36.00,278.45 36.10,277.63 36.20,276.82 36.30,276.03 36.40,275.26 36.50,274.50 36.60,273.76 36.70,273.04 36.80,272.32 36.90,271.62 37.00,270.94 37.10,270.27 37.20,269.63 37.30,269.00 37.40,268.40 37.50,267.80 37.65,266.93 37.80,266.08 37.95,265.26 38.10,264.47 38.25,263.70 38.40,262.97 38.55,262.28 38.70,261.62 38.85,261.00 39.00,260.40 39.15,259.81 39.35,259.05 39.55,258.29 39.70,257.71 39.85,257.11 40.00,256.52 40.15,255.93 40.30,255.34 40.45,254.76 40.65,253.99 40.85,253.24 41.05,252.47 41.25,251.72 41.45,251.01 41.65,250.36 41.85,249.77 42.10,249.08 42.35,248.44 42.60,247.85 42.90,247.20 43.20,246.63 43.55,246.04 43.90,245.51 44.25,245.01 44.60,244.50 44.95,243.99 45.30,243.47 45.65,242.98 46.05,242.47 46.50,242.01 46.95,241.61 47.45,241.22 48.00,240.86 48.55,240.57 49.10,240.33 49.70,240.10 50.30,239.90 50.90,239.71 51.50,239.55 52.10,239.43 52.70,239.36 53.30,239.30 53.89,239.26 54.49,239.22 55.09,239.20 55.69,239.17 56.29,239.15 56.89,239.13 57.49,239.12 58.09,239.10 58.69,239.08 59.29,239.06 59.89,239.04 60.49,239.02 61.09,238.99 61.69,238.97 62.29,238.94 62.89,238.91 63.49,238.87 64.09,238.81 64.69,238.75 65.29,238.67 65.89,238.58 66.49,238.49 67.09,238.38 67.69,238.25 68.29,238.08 68.89,237.89 69.49,237.68 70.09,237.47 70.69,237.24 71.29,236.99 71.84,236.75 72.39,236.49 72.94,236.23 73.49,235.95 74.04,235.68 74.59,235.40 75.14,235.13 75.69,234.85 76.24,234.55 76.79,234.25 77.34,233.95 77.89,233.64 78.44,233.33 78.99,233.03 79.54,232.74 80.09,232.46 80.64,232.18 81.19,231.90 81.74,231.63 82.29,231.36 82.84,231.09 83.39,230.83 83.94,230.58 84.49,230.33 85.04,230.08 85.59,229.84 86.14,229.60 86.74,229.34 87.34,229.08 87.94,228.84 88.54,228.60 89.14,228.38 89.74,228.18 90.34,228.00 90.94,227.82 91.53,227.66 92.13,227.49 92.73,227.34 93.33,227.20 93.93,227.08 94.53,226.97 95.13,226.88 95.73,226.80 96.33,226.71 96.93,226.63 97.53,226.56 98.13,226.50 98.73,226.45 99.33,226.41 99.93,226.40 100.58,226.40 101.23,226.40 101.88,226.40 102.53,226.40 103.18,226.40 103.83,226.40 104.48,226.40 105.13,226.40 105.78,226.40 106.43,226.41 107.03,226.43 107.63,226.47 108.23,226.53 108.83,226.60 109.43,226.67 110.03,226.75 110.63,226.83 111.23,226.91 111.83,226.98 112.43,227.05 113.03,227.12 113.63,227.19 114.23,227.27 114.83,227.35 115.43,227.43 116.03,227.51 116.63,227.59 117.23,227.67 117.83,227.75 118.43,227.82 119.03,227.89 119.63,227.96 120.23,228.02 120.83,228.09 121.43,228.15 122.03,228.21 122.63,228.27 123.23,228.33 123.83,228.39 124.43,228.45 125.03,228.50 125.63,228.55 126.23,228.60 126.83,228.64 127.43,228.67 128.03,228.70 128.63,228.73 129.22,228.75 129.82,228.78 130.42,228.80 131.02,228.82 131.62,228.84 132.22,228.86 132.82,228.87 133.47,228.89 134.12,228.90 134.77,228.90 135.42,228.90 136.07,228.89 136.67,228.87 137.27,228.84 137.87,228.81 138.47,228.77 139.07,228.73 139.67,228.68 140.27,228.63 140.87,228.59 141.47,228.54 142.07,228.49 142.67,228.44 143.27,228.39 143.87,228.32 144.47,228.26 145.07,228.18 145.67,228.11 146.27,228.03 146.87,227.96 147.47,227.88 148.07,227.81 148.67,227.74 149.27,227.67 149.87,227.61 150.47,227.56 151.07,227.50 151.67,227.44 152.27,227.39 152.87,227.33 153.47,227.28 154.07,227.22 154.67,227.17 155.27,227.12 155.87,227.07 156.47,227.02 157.07,226.98 157.67,226.94 158.27,226.90 158.87,226.86 159.47,226.83 160.07,226.80 160.67,226.77 161.27,226.74 161.87,226.71 162.47,226.68 163.07,226.65 163.67,226.63 164.27,226.60 164.87,226.57 165.47,226.55 166.07,226.53 166.67,226.50 167.26,226.48 167.86,226.47 168.46,226.45 169.06,226.43 169.71,226.42 170.36,226.41 171.01,226.40 171.66,226.40 172.31,226.40 172.96,226.41 173.61,226.42 174.26,226.43 174.86,226.45 175.46,226.47 176.06,226.49 176.66,226.52 177.26,226.54 177.86,226.57 178.46,226.60 179.06,226.64 179.66,226.67 180.26,226.70 180.86,226.74 181.46,226.77 182.06,226.80 182.66,226.84 183.26,226.88 183.86,226.93 184.46,226.98 185.06,227.03 185.66,227.09 186.26,227.15 186.86,227.21 187.46,227.27 188.06,227.33 188.66,227.39 189.26,227.45 189.86,227.51 190.46,227.57 191.06,227.62 191.66,227.67 192.26,227.72 192.86,227.77 193.46,227.82 194.06,227.87 194.66,227.92 195.26,227.98 195.86,228.03 196.46,228.08 197.06,228.14 197.66,228.19 198.26,228.24 198.86,228.28 199.46,228.33 200.06,228.36 200.66,228.40 201.26,228.43 201.86,228.46 202.46,228.48 203.06,228.49 203.71,228.50 204.36,228.50 205.00,228.50 205.65,228.49 206.30,228.48 206.95,228.48 207.60,228.46 208.25,228.45 208.90,228.44 209.50,228.42 210.10,228.41 210.70,228.39 211.30,228.38 211.90,228.36 212.50,228.34 213.10,228.33 213.70,228.31 214.30,228.29 214.90,228.27 215.50,228.25 216.10,228.23 216.70,228.20 217.30,228.17 217.90,228.14 218.50,228.11 219.10,228.08 219.70,228.04 220.30,228.01 220.90,227.97 221.50,227.93 222.10,227.89 222.70,227.85 223.30,227.81 223.50,227.80" stroke="#ff7f0e" stroke-width="1.1" stroke-opacity="0.75"/>
</g>
<rect x="34.5" y="183.5" width="189.0" height="114.10000000000002" fill="none" stroke="#959595" stroke-width="0.9"/>
<line x1="33.3" y1="279.9" x2="34.5" y2="279.9" stroke="#666" stroke-width="0.5"/>
<line x1="33.3" y1="259.90000000000003" x2="34.5" y2="259.90000000000003" stroke="#666" stroke-width="0.5"/>
<line x1="33.3" y1="239.9" x2="34.5" y2="239.9" stroke="#666" stroke-width="0.5"/>
<line x1="33.3" y1="219.90000000000003" x2="34.5" y2="219.90000000000003" stroke="#666" stroke-width="0.5"/>
<line x1="33.3" y1="199.9" x2="34.5" y2="199.9" stroke="#666" stroke-width="0.5"/>
<line x1="34.5" y1="297.6" x2="34.5" y2="298.8" stroke="#666" stroke-width="0.5"/>
<line x1="59.87" y1="297.6" x2="59.87" y2="298.8" stroke="#666" stroke-width="0.5"/>
<line x1="85.24" y1="297.6" x2="85.24" y2="298.8" stroke="#666" stroke-width="0.5"/>
<line x1="110.61" y1="297.6" x2="110.61" y2="298.8" stroke="#666" stroke-width="0.5"/>
<line x1="135.98" y1="297.6" x2="135.98" y2="298.8" stroke="#666" stroke-width="0.5"/>
<line x1="161.35" y1="297.6" x2="161.35" y2="298.8" stroke="#666" stroke-width="0.5"/>
<line x1="186.72" y1="297.6" x2="186.72" y2="298.8" stroke="#666" stroke-width="0.5"/>
<line x1="212.09" y1="297.6" x2="212.09" y2="298.8" stroke="#666" stroke-width="0.5"/>
<g font-family="DejaVu Sans" font-size="4.2" fill="#1e1e1e" stroke="#1e1e1e" stroke-width="0.1"><text x="31.8" y="281.35" text-anchor="end">0.55</text><text x="31.8" y="261.35" text-anchor="end">0.60</text><text x="31.8" y="241.35" text-anchor="end">0.65</text><text x="31.8" y="221.35" text-anchor="end">0.70</text><text x="31.8" y="201.35" text-anchor="end">0.75</text><text x="34.5" y="304.10" text-anchor="middle">0</text><text x="59.87" y="304.10" text-anchor="middle">20</text><text x="85.24" y="304.10" text-anchor="middle">40</text><text x="110.61" y="304.10" text-anchor="middle">60</text><text x="135.98" y="304.10" text-anchor="middle">80</text><text x="161.35" y="304.10" text-anchor="middle">100</text><text x="186.72" y="304.10" text-anchor="middle">120</text><text x="212.09" y="304.10" text-anchor="middle">140</text></g>
<text x="129.0" y="310.90" text-anchor="middle" font-family="DejaVu Sans" font-size="5.3" fill="#111" stroke="#111" stroke-width="0.1">Epoch</text>
<text transform="translate(20.00,240.95) rotate(-90)" text-anchor="middle" font-family="DejaVu Sans" font-size="5.3" fill="#111" stroke="#111" stroke-width="0.1">Recall</text>
<rect x="35.5" y="184.7" width="28.5" height="13.100000000000023" rx="0.8" fill="#fff" fill-opacity="0.8" stroke="#d8d8d8" stroke-width="0.4"/>
<line x1="38" y1="188.9" x2="47.3" y2="188.9" stroke="#1f77b4" stroke-width="1.32" stroke-opacity="0.68"/>
<text x="50.1" y="190.35" font-family="DejaVu Sans" font-size="4.05" fill="#1a1a1a" stroke="#1a1a1a" stroke-width="0.1">SAVip</text>
<line x1="38" y1="194.7" x2="47.3" y2="194.7" stroke="#ff7f0e" stroke-width="1.32" stroke-opacity="0.68"/>
<text x="50.1" y="196.15" font-family="DejaVu Sans" font-size="4.05" fill="#1a1a1a" stroke="#1a1a1a" stroke-width="0.1">V-Fuzz</text>
<text x="119" y="162.2" text-anchor="middle" font-family="Liberation Serif" font-size="11.7" fill="#111">(<tspan font-weight="bold">a</tspan>) Top-K Accuracies for SAViP</text>
<text x="434.4" y="162.2" text-anchor="middle" font-family="Liberation Serif" font-size="11.7" fill="#111">(<tspan font-weight="bold">b</tspan>) Top-K Accuracies for V-Fuzz</text>
<text x="119" y="329.5" text-anchor="middle" font-family="Liberation Serif" font-size="11.7" fill="#111">(<tspan font-weight="bold">c</tspan>) Recall comparison</text>
</svg>
</body></html>
